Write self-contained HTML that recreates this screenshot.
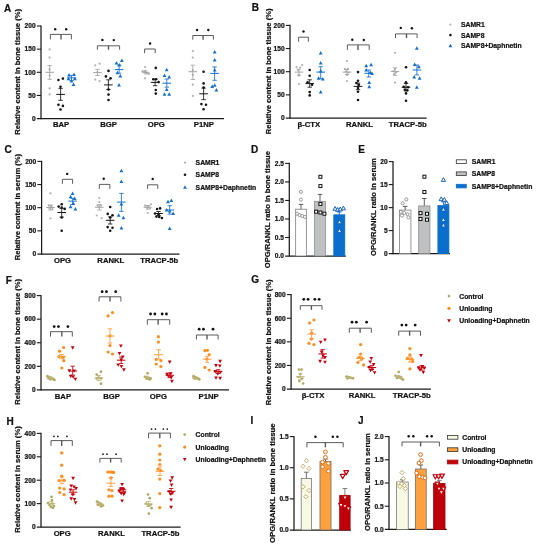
<!DOCTYPE html>
<html><head><meta charset="utf-8"><style>
html,body{margin:0;padding:0;background:#fff;}
svg{display:block;will-change:transform;}
text{font-family:"Liberation Sans", sans-serif;font-weight:bold;fill:#111;stroke:#111;stroke-width:0.22px;}
.L{font-size:10px;}
.T{font-size:6.6px;text-anchor:end;}
.C{font-size:7.7px;text-anchor:middle;}
.Y{font-size:7.6px;text-anchor:middle;}
.G{font-size:6.8px;}
.ax{stroke:#1a1a1a;stroke-width:1.25;fill:none;}
.tk{stroke:#1a1a1a;stroke-width:1.1;}
.br{stroke:#4a4a4a;stroke-width:0.9;fill:none;}
.st{fill:#111;}
</style></head><body>
<svg width="536" height="550" viewBox="0 0 536 550">
<rect width="536" height="550" fill="#fff"/>
<text x="4" y="11.9" class="L">A</text>
<line x1="41" y1="25.4" x2="41" y2="119.2" class="ax"/>
<line x1="36.8" y1="118.6" x2="224" y2="118.6" class="ax"/>
<text x="35.6" y="120.9" class="T">0</text>
<line x1="36.8" y1="95.45" x2="41" y2="95.45" class="tk"/>
<text x="35.6" y="97.75" class="T">50</text>
<line x1="36.8" y1="72.3" x2="41" y2="72.3" class="tk"/>
<text x="35.6" y="74.6" class="T">100</text>
<line x1="36.8" y1="49.15" x2="41" y2="49.15" class="tk"/>
<text x="35.6" y="51.45" class="T">150</text>
<line x1="36.8" y1="26" x2="41" y2="26" class="tk"/>
<text x="35.6" y="28.3" class="T">200</text>
<text transform="translate(19.8,71.9) rotate(-90)" class="Y">Relative content in bone tissue (%)</text>
<text x="61.1" y="127.1" class="C">BAP</text>
<text x="108.6" y="127.1" class="C">BGP</text>
<text x="156.3" y="127.1" class="C">OPG</text>
<text x="203.9" y="127.1" class="C">P1NP</text>
<circle cx="49.6" cy="49.4" r="1.1" fill="#b0b0b0"/>
<circle cx="49.6" cy="57.6" r="1.1" fill="#b0b0b0"/>
<circle cx="49.6" cy="69.4" r="1.1" fill="#b0b0b0"/>
<circle cx="49.6" cy="75.5" r="1.1" fill="#b0b0b0"/>
<circle cx="49.6" cy="88.4" r="1.1" fill="#b0b0b0"/>
<circle cx="49.6" cy="94.4" r="1.1" fill="#b0b0b0"/>
<line x1="45.4" y1="72.3" x2="54" y2="72.3" stroke="#a4a4a4" stroke-width="1.0"/>
<line x1="49.7" y1="65.6" x2="49.7" y2="79.3" stroke="#a4a4a4" stroke-width="0.85"/>
<line x1="47.5" y1="65.6" x2="51.9" y2="65.6" stroke="#a4a4a4" stroke-width="0.85"/>
<line x1="47.5" y1="79.3" x2="51.9" y2="79.3" stroke="#a4a4a4" stroke-width="0.85"/>
<circle cx="58.4" cy="80" r="1.3" fill="#141414"/>
<circle cx="62.9" cy="78.6" r="1.3" fill="#141414"/>
<circle cx="60.5" cy="86.8" r="1.3" fill="#141414"/>
<circle cx="58.4" cy="104.7" r="1.3" fill="#141414"/>
<circle cx="62.9" cy="105.9" r="1.3" fill="#141414"/>
<circle cx="60.5" cy="109.5" r="1.3" fill="#141414"/>
<line x1="56.3" y1="94.4" x2="64.9" y2="94.4" stroke="#141414" stroke-width="1.0"/>
<line x1="60.6" y1="88.4" x2="60.6" y2="100.3" stroke="#141414" stroke-width="0.85"/>
<line x1="58.4" y1="88.4" x2="62.8" y2="88.4" stroke="#141414" stroke-width="0.85"/>
<line x1="58.4" y1="100.3" x2="62.8" y2="100.3" stroke="#141414" stroke-width="0.85"/>
<path d="M69 73.1L70.9 76.61L67.1 76.61Z" fill="#1470d0"/>
<path d="M74 72.5L75.9 76.02L72.1 76.02Z" fill="#1470d0"/>
<path d="M68.5 76.7L70.4 80.21L66.6 80.21Z" fill="#1470d0"/>
<path d="M74.9 76.7L76.8 80.21L73 80.21Z" fill="#1470d0"/>
<path d="M71.5 78.9L73.4 82.41L69.6 82.41Z" fill="#1470d0"/>
<path d="M73.5 82.6L75.4 86.11L71.6 86.11Z" fill="#1470d0"/>
<line x1="67.2" y1="77.8" x2="75.8" y2="77.8" stroke="#1470d0" stroke-width="1.0"/>
<line x1="71.5" y1="75.4" x2="71.5" y2="80.4" stroke="#1470d0" stroke-width="0.85"/>
<line x1="69.3" y1="75.4" x2="73.7" y2="75.4" stroke="#1470d0" stroke-width="0.85"/>
<line x1="69.3" y1="80.4" x2="73.7" y2="80.4" stroke="#1470d0" stroke-width="0.85"/>
<path d="M50.4 39.4V34.4H71.4V39.4" class="br"/>
<line x1="61" y1="34.4" x2="61" y2="39.4" stroke="#555" stroke-width="1.35"/>
<circle cx="55.2" cy="29.2" r="1.2" class="st"/>
<circle cx="66.2" cy="29.2" r="1.2" class="st"/>
<circle cx="95.3" cy="65.3" r="1.1" fill="#b0b0b0"/>
<circle cx="99.6" cy="63.7" r="1.1" fill="#b0b0b0"/>
<circle cx="95.3" cy="79.6" r="1.1" fill="#b0b0b0"/>
<circle cx="99.6" cy="81.1" r="1.1" fill="#b0b0b0"/>
<circle cx="97.5" cy="72" r="1.1" fill="#b0b0b0"/>
<line x1="93.2" y1="72.6" x2="101.8" y2="72.6" stroke="#a4a4a4" stroke-width="1.0"/>
<line x1="97.5" y1="69.4" x2="97.5" y2="75.5" stroke="#a4a4a4" stroke-width="0.85"/>
<line x1="95.3" y1="69.4" x2="99.7" y2="69.4" stroke="#a4a4a4" stroke-width="0.85"/>
<line x1="95.3" y1="75.5" x2="99.7" y2="75.5" stroke="#a4a4a4" stroke-width="0.85"/>
<circle cx="108.5" cy="70.9" r="1.3" fill="#141414"/>
<circle cx="105.9" cy="76.4" r="1.3" fill="#141414"/>
<circle cx="110.6" cy="78.3" r="1.3" fill="#141414"/>
<circle cx="108.5" cy="89.5" r="1.3" fill="#141414"/>
<circle cx="108.5" cy="94.6" r="1.3" fill="#141414"/>
<circle cx="108.5" cy="100" r="1.3" fill="#141414"/>
<line x1="104.1" y1="84.9" x2="112.7" y2="84.9" stroke="#141414" stroke-width="1.0"/>
<line x1="108.4" y1="79.8" x2="108.4" y2="89.5" stroke="#141414" stroke-width="0.85"/>
<line x1="106.2" y1="79.8" x2="110.6" y2="79.8" stroke="#141414" stroke-width="0.85"/>
<line x1="106.2" y1="89.5" x2="110.6" y2="89.5" stroke="#141414" stroke-width="0.85"/>
<path d="M116.5 60.9L118.4 64.41L114.6 64.41Z" fill="#1470d0"/>
<path d="M121.8 58.6L123.7 62.12L119.9 62.12Z" fill="#1470d0"/>
<path d="M119.3 63.1L121.2 66.61L117.4 66.61Z" fill="#1470d0"/>
<path d="M117.4 70.7L119.3 74.21L115.5 74.21Z" fill="#1470d0"/>
<path d="M120.3 73.9L122.2 77.41L118.4 77.41Z" fill="#1470d0"/>
<path d="M119 83L120.9 86.52L117.1 86.52Z" fill="#1470d0"/>
<line x1="114.8" y1="69.6" x2="123.4" y2="69.6" stroke="#1470d0" stroke-width="1.0"/>
<line x1="119.1" y1="65" x2="119.1" y2="73.2" stroke="#1470d0" stroke-width="0.85"/>
<line x1="116.9" y1="65" x2="121.3" y2="65" stroke="#1470d0" stroke-width="0.85"/>
<line x1="116.9" y1="73.2" x2="121.3" y2="73.2" stroke="#1470d0" stroke-width="0.85"/>
<path d="M97.4 49.7V45.8H119.6V49.7" class="br"/>
<line x1="108.5" y1="45.8" x2="108.5" y2="49.7" stroke="#555" stroke-width="1.35"/>
<circle cx="102.4" cy="39.9" r="1.2" class="st"/>
<circle cx="113.8" cy="40.1" r="1.2" class="st"/>
<circle cx="145" cy="67.1" r="1.1" fill="#b0b0b0"/>
<circle cx="145" cy="78.3" r="1.1" fill="#b0b0b0"/>
<circle cx="142.5" cy="71.2" r="1.1" fill="#b0b0b0"/>
<circle cx="144.2" cy="71.8" r="1.1" fill="#b0b0b0"/>
<circle cx="146" cy="72.6" r="1.1" fill="#b0b0b0"/>
<circle cx="147.5" cy="73.2" r="1.1" fill="#b0b0b0"/>
<circle cx="149" cy="73.8" r="1.1" fill="#b0b0b0"/>
<line x1="141.75" y1="72.3" x2="149.25" y2="72.3" stroke="#a4a4a4" stroke-width="1.0"/>
<line x1="145.5" y1="70.6" x2="145.5" y2="74" stroke="#a4a4a4" stroke-width="0.85"/>
<line x1="143.75" y1="70.6" x2="147.25" y2="70.6" stroke="#a4a4a4" stroke-width="0.85"/>
<line x1="143.75" y1="74" x2="147.25" y2="74" stroke="#a4a4a4" stroke-width="0.85"/>
<circle cx="155.8" cy="67.9" r="1.3" fill="#141414"/>
<circle cx="153.3" cy="79.3" r="1.3" fill="#141414"/>
<circle cx="156.1" cy="79.3" r="1.3" fill="#141414"/>
<circle cx="158.6" cy="82.1" r="1.3" fill="#141414"/>
<circle cx="155.8" cy="90" r="1.3" fill="#141414"/>
<circle cx="155.8" cy="93.6" r="1.3" fill="#141414"/>
<line x1="150.8" y1="82.4" x2="159.4" y2="82.4" stroke="#141414" stroke-width="1.0"/>
<line x1="155.1" y1="79" x2="155.1" y2="85.7" stroke="#141414" stroke-width="0.85"/>
<line x1="152.9" y1="79" x2="157.3" y2="79" stroke="#141414" stroke-width="0.85"/>
<line x1="152.9" y1="85.7" x2="157.3" y2="85.7" stroke="#141414" stroke-width="0.85"/>
<path d="M166.7 67.7L168.6 71.21L164.8 71.21Z" fill="#1470d0"/>
<path d="M164.5 73.6L166.4 77.11L162.6 77.11Z" fill="#1470d0"/>
<path d="M169.2 75.1L171.1 78.61L167.3 78.61Z" fill="#1470d0"/>
<path d="M166.7 87.6L168.6 91.11L164.8 91.11Z" fill="#1470d0"/>
<path d="M164.5 92.3L166.4 95.81L162.6 95.81Z" fill="#1470d0"/>
<path d="M169.2 92.3L171.1 95.81L167.3 95.81Z" fill="#1470d0"/>
<line x1="162.5" y1="83.2" x2="171.1" y2="83.2" stroke="#1470d0" stroke-width="1.0"/>
<line x1="166.8" y1="79" x2="166.8" y2="87.2" stroke="#1470d0" stroke-width="0.85"/>
<line x1="164.6" y1="79" x2="169" y2="79" stroke="#1470d0" stroke-width="0.85"/>
<line x1="164.6" y1="87.2" x2="169" y2="87.2" stroke="#1470d0" stroke-width="0.85"/>
<path d="M144.6 53.2V49H155.2V53.2" class="br"/>
<circle cx="150.1" cy="43.5" r="1.2" class="st"/>
<circle cx="192.8" cy="51" r="1.1" fill="#b0b0b0"/>
<circle cx="192.8" cy="57.6" r="1.1" fill="#b0b0b0"/>
<circle cx="192.8" cy="70" r="1.1" fill="#b0b0b0"/>
<circle cx="192.8" cy="74.8" r="1.1" fill="#b0b0b0"/>
<circle cx="192.8" cy="84.7" r="1.1" fill="#b0b0b0"/>
<circle cx="192.8" cy="95.9" r="1.1" fill="#b0b0b0"/>
<line x1="188.5" y1="71.7" x2="197.1" y2="71.7" stroke="#a4a4a4" stroke-width="1.0"/>
<line x1="192.8" y1="65.2" x2="192.8" y2="79.5" stroke="#a4a4a4" stroke-width="0.85"/>
<line x1="190.6" y1="65.2" x2="195" y2="65.2" stroke="#a4a4a4" stroke-width="0.85"/>
<line x1="190.6" y1="79.5" x2="195" y2="79.5" stroke="#a4a4a4" stroke-width="0.85"/>
<circle cx="203.6" cy="71.7" r="1.3" fill="#141414"/>
<circle cx="203.6" cy="83.4" r="1.3" fill="#141414"/>
<circle cx="203.6" cy="87.6" r="1.3" fill="#141414"/>
<circle cx="201.4" cy="104.1" r="1.3" fill="#141414"/>
<circle cx="206" cy="104.8" r="1.3" fill="#141414"/>
<circle cx="203.6" cy="109.3" r="1.3" fill="#141414"/>
<line x1="199.3" y1="93.8" x2="207.9" y2="93.8" stroke="#141414" stroke-width="1.0"/>
<line x1="203.6" y1="88.1" x2="203.6" y2="99.7" stroke="#141414" stroke-width="0.85"/>
<line x1="201.4" y1="88.1" x2="205.8" y2="88.1" stroke="#141414" stroke-width="0.85"/>
<line x1="201.4" y1="99.7" x2="205.8" y2="99.7" stroke="#141414" stroke-width="0.85"/>
<path d="M214.7 50L216.6 53.52L212.8 53.52Z" fill="#1470d0"/>
<path d="M214.7 58.1L216.6 61.62L212.8 61.62Z" fill="#1470d0"/>
<path d="M214.7 68.1L216.6 71.61L212.8 71.61Z" fill="#1470d0"/>
<path d="M212.2 84.5L214.1 88.02L210.3 88.02Z" fill="#1470d0"/>
<path d="M214.7 83.3L216.6 86.81L212.8 86.81Z" fill="#1470d0"/>
<path d="M216.4 87.9L218.3 91.41L214.5 91.41Z" fill="#1470d0"/>
<line x1="210.3" y1="73.4" x2="218.9" y2="73.4" stroke="#1470d0" stroke-width="1.0"/>
<line x1="214.6" y1="66.9" x2="214.6" y2="80.3" stroke="#1470d0" stroke-width="0.85"/>
<line x1="212.4" y1="66.9" x2="216.8" y2="66.9" stroke="#1470d0" stroke-width="0.85"/>
<line x1="212.4" y1="80.3" x2="216.8" y2="80.3" stroke="#1470d0" stroke-width="0.85"/>
<path d="M192.8 39.7V35.5H213.4V39.7" class="br"/>
<line x1="203.1" y1="35.5" x2="203.1" y2="39.7" stroke="#555" stroke-width="1.35"/>
<circle cx="197.1" cy="30" r="1.2" class="st"/>
<circle cx="208.3" cy="30" r="1.2" class="st"/>
<text x="251.8" y="11.4" class="L">B</text>
<line x1="290" y1="24.8" x2="290" y2="118.6" class="ax"/>
<line x1="285.8" y1="118" x2="426.6" y2="118" class="ax"/>
<text x="284.6" y="120.3" class="T">0</text>
<line x1="285.8" y1="94.85" x2="290" y2="94.85" class="tk"/>
<text x="284.6" y="97.15" class="T">50</text>
<line x1="285.8" y1="71.7" x2="290" y2="71.7" class="tk"/>
<text x="284.6" y="74" class="T">100</text>
<line x1="285.8" y1="48.55" x2="290" y2="48.55" class="tk"/>
<text x="284.6" y="50.85" class="T">150</text>
<line x1="285.8" y1="25.4" x2="290" y2="25.4" class="tk"/>
<text x="284.6" y="27.7" class="T">200</text>
<text transform="translate(270.6,71.4) rotate(-90)" class="Y">Relative content in bone tissue (%)</text>
<text x="308.8" y="126.7" class="C">β-CTX</text>
<text x="359.5" y="126.7" class="C">RANKL</text>
<text x="407.7" y="126.7" class="C">TRACP-5b</text>
<circle cx="296.6" cy="67.2" r="1.1" fill="#b0b0b0"/>
<circle cx="300.2" cy="67.5" r="1.1" fill="#b0b0b0"/>
<circle cx="302.2" cy="65.1" r="1.1" fill="#b0b0b0"/>
<circle cx="298" cy="70" r="1.1" fill="#b0b0b0"/>
<circle cx="298.9" cy="75.7" r="1.1" fill="#b0b0b0"/>
<circle cx="298.9" cy="84" r="1.1" fill="#b0b0b0"/>
<line x1="294.7" y1="72.1" x2="303.3" y2="72.1" stroke="#a4a4a4" stroke-width="1.0"/>
<line x1="299" y1="69.2" x2="299" y2="74.9" stroke="#a4a4a4" stroke-width="0.85"/>
<line x1="296.8" y1="69.2" x2="301.2" y2="69.2" stroke="#a4a4a4" stroke-width="0.85"/>
<line x1="296.8" y1="74.9" x2="301.2" y2="74.9" stroke="#a4a4a4" stroke-width="0.85"/>
<circle cx="309.7" cy="70" r="1.3" fill="#141414"/>
<circle cx="309.7" cy="75.7" r="1.3" fill="#141414"/>
<circle cx="307.6" cy="82.3" r="1.3" fill="#141414"/>
<circle cx="312" cy="84.8" r="1.3" fill="#141414"/>
<circle cx="309.7" cy="92.1" r="1.3" fill="#141414"/>
<circle cx="309.7" cy="95.4" r="1.3" fill="#141414"/>
<line x1="305.4" y1="83.6" x2="314" y2="83.6" stroke="#141414" stroke-width="1.0"/>
<line x1="309.7" y1="79.8" x2="309.7" y2="87.2" stroke="#141414" stroke-width="0.85"/>
<line x1="307.5" y1="79.8" x2="311.9" y2="79.8" stroke="#141414" stroke-width="0.85"/>
<line x1="307.5" y1="87.2" x2="311.9" y2="87.2" stroke="#141414" stroke-width="0.85"/>
<path d="M320.7 50.9L322.6 54.41L318.8 54.41Z" fill="#1470d0"/>
<path d="M320.7 61L322.6 64.52L318.8 64.52Z" fill="#1470d0"/>
<path d="M320.7 68.9L322.6 72.41L318.8 72.41Z" fill="#1470d0"/>
<path d="M318.6 76.3L320.5 79.81L316.7 79.81Z" fill="#1470d0"/>
<path d="M322.8 77.1L324.7 80.61L320.9 80.61Z" fill="#1470d0"/>
<path d="M320.7 89.9L322.6 93.41L318.8 93.41Z" fill="#1470d0"/>
<line x1="316.4" y1="72.1" x2="325" y2="72.1" stroke="#1470d0" stroke-width="1.0"/>
<line x1="320.7" y1="66.7" x2="320.7" y2="78.7" stroke="#1470d0" stroke-width="0.85"/>
<line x1="318.5" y1="66.7" x2="322.9" y2="66.7" stroke="#1470d0" stroke-width="0.85"/>
<line x1="318.5" y1="78.7" x2="322.9" y2="78.7" stroke="#1470d0" stroke-width="0.85"/>
<path d="M298.6 41.7V37.2H308.4V41.7" class="br"/>
<circle cx="303.5" cy="31.5" r="1.2" class="st"/>
<circle cx="346.9" cy="61" r="1.1" fill="#b0b0b0"/>
<circle cx="344.9" cy="68.9" r="1.1" fill="#b0b0b0"/>
<circle cx="347.9" cy="68.9" r="1.1" fill="#b0b0b0"/>
<circle cx="346" cy="71.5" r="1.1" fill="#b0b0b0"/>
<circle cx="348.5" cy="72.5" r="1.1" fill="#b0b0b0"/>
<circle cx="347" cy="74.9" r="1.1" fill="#b0b0b0"/>
<circle cx="346.9" cy="81" r="1.1" fill="#b0b0b0"/>
<line x1="342.7" y1="72.1" x2="351.3" y2="72.1" stroke="#a4a4a4" stroke-width="1.0"/>
<line x1="347" y1="69.5" x2="347" y2="74.5" stroke="#a4a4a4" stroke-width="0.85"/>
<line x1="344.8" y1="69.5" x2="349.2" y2="69.5" stroke="#a4a4a4" stroke-width="0.85"/>
<line x1="344.8" y1="74.5" x2="349.2" y2="74.5" stroke="#a4a4a4" stroke-width="0.85"/>
<circle cx="358" cy="72.1" r="1.3" fill="#141414"/>
<circle cx="358" cy="80.7" r="1.3" fill="#141414"/>
<circle cx="356.4" cy="83" r="1.3" fill="#141414"/>
<circle cx="358.9" cy="84.8" r="1.3" fill="#141414"/>
<circle cx="358" cy="88" r="1.3" fill="#141414"/>
<circle cx="358" cy="91.8" r="1.3" fill="#141414"/>
<circle cx="358" cy="100" r="1.3" fill="#141414"/>
<line x1="353.7" y1="86.4" x2="362.3" y2="86.4" stroke="#141414" stroke-width="1.0"/>
<line x1="358" y1="83.1" x2="358" y2="89.7" stroke="#141414" stroke-width="0.85"/>
<line x1="355.8" y1="83.1" x2="360.2" y2="83.1" stroke="#141414" stroke-width="0.85"/>
<line x1="355.8" y1="89.7" x2="360.2" y2="89.7" stroke="#141414" stroke-width="0.85"/>
<path d="M366.2 63.7L368.1 67.21L364.3 67.21Z" fill="#1470d0"/>
<path d="M371.1 62.7L373 66.21L369.2 66.21Z" fill="#1470d0"/>
<path d="M366.2 68.1L368.1 71.61L364.3 71.61Z" fill="#1470d0"/>
<path d="M370.3 70.6L372.2 74.11L368.4 74.11Z" fill="#1470d0"/>
<path d="M372 71.6L373.9 75.11L370.1 75.11Z" fill="#1470d0"/>
<path d="M369.2 80.4L371.1 83.91L367.3 83.91Z" fill="#1470d0"/>
<path d="M369.2 84.7L371.1 88.21L367.3 88.21Z" fill="#1470d0"/>
<line x1="364.4" y1="73.3" x2="373" y2="73.3" stroke="#1470d0" stroke-width="1.0"/>
<line x1="368.7" y1="70" x2="368.7" y2="77" stroke="#1470d0" stroke-width="0.85"/>
<line x1="366.5" y1="70" x2="370.9" y2="70" stroke="#1470d0" stroke-width="0.85"/>
<line x1="366.5" y1="77" x2="370.9" y2="77" stroke="#1470d0" stroke-width="0.85"/>
<path d="M347.4 49.9V44.9H369.2V49.9" class="br"/>
<line x1="358" y1="44.9" x2="358" y2="49.9" stroke="#555" stroke-width="1.35"/>
<circle cx="352.3" cy="39.7" r="1.2" class="st"/>
<circle cx="363.8" cy="40" r="1.2" class="st"/>
<circle cx="395" cy="52.8" r="1.1" fill="#b0b0b0"/>
<circle cx="393.5" cy="71" r="1.1" fill="#b0b0b0"/>
<circle cx="396" cy="72.5" r="1.1" fill="#b0b0b0"/>
<circle cx="395" cy="69" r="1.1" fill="#b0b0b0"/>
<circle cx="394" cy="74" r="1.1" fill="#b0b0b0"/>
<circle cx="395" cy="82.6" r="1.1" fill="#b0b0b0"/>
<line x1="390.7" y1="71.6" x2="399.3" y2="71.6" stroke="#a4a4a4" stroke-width="1.0"/>
<line x1="395" y1="67.9" x2="395" y2="75.4" stroke="#a4a4a4" stroke-width="0.85"/>
<line x1="392.8" y1="67.9" x2="397.2" y2="67.9" stroke="#a4a4a4" stroke-width="0.85"/>
<line x1="392.8" y1="75.4" x2="397.2" y2="75.4" stroke="#a4a4a4" stroke-width="0.85"/>
<circle cx="406" cy="67.2" r="1.3" fill="#141414"/>
<circle cx="406" cy="82.3" r="1.3" fill="#141414"/>
<circle cx="403.7" cy="86.9" r="1.3" fill="#141414"/>
<circle cx="408.1" cy="87.2" r="1.3" fill="#141414"/>
<circle cx="404.9" cy="89.7" r="1.3" fill="#141414"/>
<circle cx="407.3" cy="90.2" r="1.3" fill="#141414"/>
<circle cx="406" cy="93.4" r="1.3" fill="#141414"/>
<circle cx="406" cy="100.7" r="1.3" fill="#141414"/>
<line x1="401.7" y1="87.2" x2="410.3" y2="87.2" stroke="#141414" stroke-width="1.0"/>
<line x1="406" y1="83.5" x2="406" y2="91" stroke="#141414" stroke-width="0.85"/>
<line x1="403.8" y1="83.5" x2="408.2" y2="83.5" stroke="#141414" stroke-width="0.85"/>
<line x1="403.8" y1="91" x2="408.2" y2="91" stroke="#141414" stroke-width="0.85"/>
<path d="M416.8 46.3L418.7 49.82L414.9 49.82Z" fill="#1470d0"/>
<path d="M414.7 62.4L416.6 65.91L412.8 65.91Z" fill="#1470d0"/>
<path d="M418.8 64.8L420.7 68.31L416.9 68.31Z" fill="#1470d0"/>
<path d="M414.2 75.1L416.1 78.61L412.3 78.61Z" fill="#1470d0"/>
<path d="M419.6 76.3L421.5 79.81L417.7 79.81Z" fill="#1470d0"/>
<path d="M416.8 85.3L418.7 88.81L414.9 88.81Z" fill="#1470d0"/>
<line x1="412.6" y1="70" x2="421.2" y2="70" stroke="#1470d0" stroke-width="1.0"/>
<line x1="416.9" y1="65" x2="416.9" y2="74.9" stroke="#1470d0" stroke-width="0.85"/>
<line x1="414.7" y1="65" x2="419.1" y2="65" stroke="#1470d0" stroke-width="0.85"/>
<line x1="414.7" y1="74.9" x2="419.1" y2="74.9" stroke="#1470d0" stroke-width="0.85"/>
<path d="M395.5 38.1V33.9H417.1V38.1" class="br"/>
<line x1="406.5" y1="33.9" x2="406.5" y2="38.1" stroke="#555" stroke-width="1.35"/>
<circle cx="400.8" cy="27.9" r="1.2" class="st"/>
<circle cx="411.9" cy="28.2" r="1.2" class="st"/>
<circle cx="450.4" cy="24.6" r="1.1" fill="#b0b0b0"/>
<text x="461" y="27.1" class="G">SAMR1</text>
<circle cx="450.4" cy="35.1" r="1.3" fill="#141414"/>
<text x="461" y="37.7" class="G">SAMP8</text>
<path d="M450.4 43.7L452.3 47.22L448.5 47.22Z" fill="#1470d0"/>
<text x="461" y="48.2" class="G">SAMP8+Daphnetin</text>
<text x="4.6" y="153.2" class="L">C</text>
<line x1="41.6" y1="160.8" x2="41.6" y2="254.6" class="ax"/>
<line x1="37.4" y1="254" x2="179.5" y2="254" class="ax"/>
<text x="36.2" y="256.3" class="T">0</text>
<line x1="37.4" y1="230.85" x2="41.6" y2="230.85" class="tk"/>
<text x="36.2" y="233.15" class="T">50</text>
<line x1="37.4" y1="207.7" x2="41.6" y2="207.7" class="tk"/>
<text x="36.2" y="210" class="T">100</text>
<line x1="37.4" y1="184.55" x2="41.6" y2="184.55" class="tk"/>
<text x="36.2" y="186.85" class="T">150</text>
<line x1="37.4" y1="161.4" x2="41.6" y2="161.4" class="tk"/>
<text x="36.2" y="163.7" class="T">200</text>
<text transform="translate(20.1,207.1) rotate(-90)" class="Y">Relative content in serum (%)</text>
<text x="62.5" y="262.7" class="C">OPG</text>
<text x="110.8" y="262.7" class="C">RANKL</text>
<text x="159.2" y="262.7" class="C">TRACP-5b</text>
<circle cx="50.5" cy="193.4" r="1.1" fill="#b0b0b0"/>
<circle cx="48.8" cy="205.6" r="1.1" fill="#b0b0b0"/>
<circle cx="51.5" cy="206.2" r="1.1" fill="#b0b0b0"/>
<circle cx="49.5" cy="208.2" r="1.1" fill="#b0b0b0"/>
<circle cx="52.5" cy="209" r="1.1" fill="#b0b0b0"/>
<circle cx="50.5" cy="218.5" r="1.1" fill="#b0b0b0"/>
<line x1="46.2" y1="207.5" x2="54.8" y2="207.5" stroke="#a4a4a4" stroke-width="1.0"/>
<line x1="50.5" y1="205" x2="50.5" y2="210" stroke="#a4a4a4" stroke-width="0.85"/>
<line x1="48.3" y1="205" x2="52.7" y2="205" stroke="#a4a4a4" stroke-width="0.85"/>
<line x1="48.3" y1="210" x2="52.7" y2="210" stroke="#a4a4a4" stroke-width="0.85"/>
<circle cx="61.7" cy="204.3" r="1.3" fill="#141414"/>
<circle cx="58.7" cy="206.6" r="1.3" fill="#141414"/>
<circle cx="64.7" cy="208.9" r="1.3" fill="#141414"/>
<circle cx="61.7" cy="207.5" r="1.3" fill="#141414"/>
<circle cx="61.7" cy="217.5" r="1.3" fill="#141414"/>
<circle cx="61.7" cy="230.7" r="1.3" fill="#141414"/>
<line x1="57.4" y1="212.5" x2="66" y2="212.5" stroke="#141414" stroke-width="1.0"/>
<line x1="61.7" y1="208.4" x2="61.7" y2="217.1" stroke="#141414" stroke-width="0.85"/>
<line x1="59.5" y1="208.4" x2="63.9" y2="208.4" stroke="#141414" stroke-width="0.85"/>
<line x1="59.5" y1="217.1" x2="63.9" y2="217.1" stroke="#141414" stroke-width="0.85"/>
<path d="M72.6 191.5L74.5 195.02L70.7 195.02Z" fill="#1470d0"/>
<path d="M70.6 194.7L72.5 198.22L68.7 198.22Z" fill="#1470d0"/>
<path d="M74.7 196.5L76.6 200.02L72.8 200.02Z" fill="#1470d0"/>
<path d="M73.3 201.6L75.2 205.12L71.4 205.12Z" fill="#1470d0"/>
<path d="M70.6 204.7L72.5 208.22L68.7 208.22Z" fill="#1470d0"/>
<path d="M75.4 207L77.3 210.52L73.5 210.52Z" fill="#1470d0"/>
<line x1="68.3" y1="201.1" x2="76.9" y2="201.1" stroke="#1470d0" stroke-width="1.0"/>
<line x1="72.6" y1="198.4" x2="72.6" y2="204.5" stroke="#1470d0" stroke-width="0.85"/>
<line x1="70.4" y1="198.4" x2="74.8" y2="198.4" stroke="#1470d0" stroke-width="0.85"/>
<line x1="70.4" y1="204.5" x2="74.8" y2="204.5" stroke="#1470d0" stroke-width="0.85"/>
<path d="M62.4 183.8V179.3H72.6V183.8" class="br"/>
<circle cx="67.2" cy="173.9" r="1.2" class="st"/>
<circle cx="99.3" cy="198" r="1.1" fill="#b0b0b0"/>
<circle cx="99.3" cy="202.1" r="1.1" fill="#b0b0b0"/>
<circle cx="97.5" cy="205.6" r="1.1" fill="#b0b0b0"/>
<circle cx="101" cy="205.6" r="1.1" fill="#b0b0b0"/>
<circle cx="99.3" cy="207.3" r="1.1" fill="#b0b0b0"/>
<circle cx="96.8" cy="215.5" r="1.1" fill="#b0b0b0"/>
<circle cx="101.6" cy="218" r="1.1" fill="#b0b0b0"/>
<line x1="95" y1="207.3" x2="103.6" y2="207.3" stroke="#a4a4a4" stroke-width="1.0"/>
<line x1="99.3" y1="204.6" x2="99.3" y2="210" stroke="#a4a4a4" stroke-width="0.85"/>
<line x1="97.1" y1="204.6" x2="101.5" y2="204.6" stroke="#a4a4a4" stroke-width="0.85"/>
<line x1="97.1" y1="210" x2="101.5" y2="210" stroke="#a4a4a4" stroke-width="0.85"/>
<circle cx="110.2" cy="207" r="1.3" fill="#141414"/>
<circle cx="107.7" cy="213.9" r="1.3" fill="#141414"/>
<circle cx="112.5" cy="215.2" r="1.3" fill="#141414"/>
<circle cx="110.2" cy="217.5" r="1.3" fill="#141414"/>
<circle cx="107.7" cy="227.1" r="1.3" fill="#141414"/>
<circle cx="112.5" cy="227.8" r="1.3" fill="#141414"/>
<circle cx="110.2" cy="230.8" r="1.3" fill="#141414"/>
<line x1="105.9" y1="220.3" x2="114.5" y2="220.3" stroke="#141414" stroke-width="1.0"/>
<line x1="110.2" y1="216.9" x2="110.2" y2="224" stroke="#141414" stroke-width="0.85"/>
<line x1="108" y1="216.9" x2="112.4" y2="216.9" stroke="#141414" stroke-width="0.85"/>
<line x1="108" y1="224" x2="112.4" y2="224" stroke="#141414" stroke-width="0.85"/>
<path d="M121.4 168.8L123.3 172.31L119.5 172.31Z" fill="#1470d0"/>
<path d="M121.4 179.5L123.3 183.02L119.5 183.02Z" fill="#1470d0"/>
<path d="M121.4 202L123.3 205.52L119.5 205.52Z" fill="#1470d0"/>
<path d="M118.7 213.3L120.6 216.81L116.8 216.81Z" fill="#1470d0"/>
<path d="M123.4 215.7L125.3 219.22L121.5 219.22Z" fill="#1470d0"/>
<path d="M121.4 225.9L123.3 229.42L119.5 229.42Z" fill="#1470d0"/>
<line x1="117.1" y1="202.1" x2="125.7" y2="202.1" stroke="#1470d0" stroke-width="1.0"/>
<line x1="121.4" y1="193.4" x2="121.4" y2="211.4" stroke="#1470d0" stroke-width="0.85"/>
<line x1="119.2" y1="193.4" x2="123.6" y2="193.4" stroke="#1470d0" stroke-width="0.85"/>
<line x1="119.2" y1="211.4" x2="123.6" y2="211.4" stroke="#1470d0" stroke-width="0.85"/>
<path d="M99.3 188.9V184.4H109.8V188.9" class="br"/>
<circle cx="103.7" cy="178.7" r="1.2" class="st"/>
<circle cx="151" cy="204.3" r="1.1" fill="#b0b0b0"/>
<circle cx="145.1" cy="205.7" r="1.1" fill="#b0b0b0"/>
<circle cx="148.9" cy="206" r="1.1" fill="#b0b0b0"/>
<circle cx="146.9" cy="207.6" r="1.1" fill="#b0b0b0"/>
<circle cx="150" cy="208.4" r="1.1" fill="#b0b0b0"/>
<circle cx="147.8" cy="212.8" r="1.1" fill="#b0b0b0"/>
<line x1="143.6" y1="207.3" x2="151.6" y2="207.3" stroke="#a4a4a4" stroke-width="1.0"/>
<line x1="147.6" y1="205.5" x2="147.6" y2="209.2" stroke="#a4a4a4" stroke-width="0.85"/>
<line x1="145.85" y1="205.5" x2="149.35" y2="205.5" stroke="#a4a4a4" stroke-width="0.85"/>
<line x1="145.85" y1="209.2" x2="149.35" y2="209.2" stroke="#a4a4a4" stroke-width="0.85"/>
<circle cx="157.1" cy="209" r="1.3" fill="#141414"/>
<circle cx="160.1" cy="208.4" r="1.3" fill="#141414"/>
<circle cx="155" cy="213.5" r="1.3" fill="#141414"/>
<circle cx="158.5" cy="214.2" r="1.3" fill="#141414"/>
<circle cx="156.4" cy="216.6" r="1.3" fill="#141414"/>
<circle cx="159.2" cy="216.9" r="1.3" fill="#141414"/>
<circle cx="161.9" cy="218" r="1.3" fill="#141414"/>
<line x1="154.2" y1="213.5" x2="162.8" y2="213.5" stroke="#141414" stroke-width="1.0"/>
<line x1="158.5" y1="211.5" x2="158.5" y2="215.5" stroke="#141414" stroke-width="0.85"/>
<line x1="156.3" y1="211.5" x2="160.7" y2="211.5" stroke="#141414" stroke-width="0.85"/>
<line x1="156.3" y1="215.5" x2="160.7" y2="215.5" stroke="#141414" stroke-width="0.85"/>
<path d="M168 199.7L169.9 203.22L166.1 203.22Z" fill="#1470d0"/>
<path d="M171.4 198.6L173.3 202.12L169.5 202.12Z" fill="#1470d0"/>
<path d="M166.7 207.9L168.6 211.42L164.8 211.42Z" fill="#1470d0"/>
<path d="M169.7 208.9L171.6 212.42L167.8 212.42Z" fill="#1470d0"/>
<path d="M173.2 211.6L175.1 215.12L171.3 215.12Z" fill="#1470d0"/>
<path d="M169.7 226.6L171.6 230.12L167.8 230.12Z" fill="#1470d0"/>
<line x1="165.4" y1="210" x2="174" y2="210" stroke="#1470d0" stroke-width="1.0"/>
<line x1="169.7" y1="205.7" x2="169.7" y2="214.1" stroke="#1470d0" stroke-width="0.85"/>
<line x1="167.5" y1="205.7" x2="171.9" y2="205.7" stroke="#1470d0" stroke-width="0.85"/>
<line x1="167.5" y1="214.1" x2="171.9" y2="214.1" stroke="#1470d0" stroke-width="0.85"/>
<path d="M147.6 188.9V184.8H157.8V188.9" class="br"/>
<circle cx="152.7" cy="178.9" r="1.2" class="st"/>
<circle cx="185" cy="162.6" r="1.1" fill="#b0b0b0"/>
<text x="195.6" y="165.1" class="G">SAMR1</text>
<circle cx="185" cy="174.8" r="1.3" fill="#141414"/>
<text x="195.6" y="177.3" class="G">SAMP8</text>
<path d="M185 185.3L186.9 188.81L183.1 188.81Z" fill="#1470d0"/>
<text x="195.6" y="189.7" class="G">SAMP8+Daphnetin</text>
<text x="250.9" y="152.7" class="L">D</text>
<line x1="289.3" y1="162.8" x2="289.3" y2="256.6" class="ax"/>
<line x1="285.1" y1="256" x2="345.8" y2="256" class="ax"/>
<text x="283.9" y="258.3" class="T">0.0</text>
<line x1="285.1" y1="237.48" x2="289.3" y2="237.48" class="tk"/>
<text x="283.9" y="239.78" class="T">0.5</text>
<line x1="285.1" y1="218.96" x2="289.3" y2="218.96" class="tk"/>
<text x="283.9" y="221.26" class="T">1.0</text>
<line x1="285.1" y1="200.44" x2="289.3" y2="200.44" class="tk"/>
<text x="283.9" y="202.74" class="T">1.5</text>
<line x1="285.1" y1="181.92" x2="289.3" y2="181.92" class="tk"/>
<text x="283.9" y="184.22" class="T">2.0</text>
<line x1="285.1" y1="163.4" x2="289.3" y2="163.4" class="tk"/>
<text x="283.9" y="165.7" class="T">2.5</text>
<text transform="translate(270.2,209.6) rotate(-90)" class="Y">OPG/RANKL ratio in bone tissue</text>
<line x1="301" y1="209.2" x2="301" y2="204.4" stroke="#555" stroke-width="0.95"/>
<line x1="298.7" y1="204.4" x2="303.3" y2="204.4" stroke="#555" stroke-width="0.95"/>
<rect x="295.68" y="209.2" width="10.65" height="46.8" fill="#ffffff" stroke="#777" stroke-width="0.75"/>
<line x1="320" y1="201.3" x2="320" y2="194.4" stroke="#555" stroke-width="0.95"/>
<line x1="317.7" y1="194.4" x2="322.3" y2="194.4" stroke="#555" stroke-width="0.95"/>
<rect x="314.48" y="201.3" width="11.05" height="54.7" fill="#bfc0c2" stroke="#8a8a8a" stroke-width="0.75"/>
<line x1="339.3" y1="214.8" x2="339.3" y2="212" stroke="#0a6ecd" stroke-width="0.95"/>
<line x1="337" y1="212" x2="341.6" y2="212" stroke="#0a6ecd" stroke-width="0.95"/>
<rect x="333.77" y="214.8" width="11.05" height="41.2" fill="#0a6ecd" stroke="#0a6ecd" stroke-width="0.75"/>
<circle cx="300.9" cy="191.8" r="1.55" fill="#fff" stroke="#8a8a8a" stroke-width="0.85"/>
<circle cx="300.9" cy="199.6" r="1.55" fill="#fff" stroke="#8a8a8a" stroke-width="0.85"/>
<circle cx="297.1" cy="213.7" r="1.55" fill="#fff" stroke="#8a8a8a" stroke-width="0.85"/>
<circle cx="299.7" cy="215.1" r="1.55" fill="#fff" stroke="#8a8a8a" stroke-width="0.85"/>
<circle cx="302.3" cy="216" r="1.55" fill="#fff" stroke="#8a8a8a" stroke-width="0.85"/>
<circle cx="304.9" cy="216.9" r="1.55" fill="#fff" stroke="#8a8a8a" stroke-width="0.85"/>
<rect x="318.9" y="175.3" width="3" height="3" fill="#fff" stroke="#111" stroke-width="1.0"/>
<rect x="318.9" y="184.6" width="3" height="3" fill="#fff" stroke="#111" stroke-width="1.0"/>
<rect x="318.9" y="202.4" width="3" height="3" fill="#fff" stroke="#111" stroke-width="1.0"/>
<rect x="314.6" y="210.2" width="3" height="3" fill="#fff" stroke="#111" stroke-width="1.0"/>
<rect x="318.9" y="211" width="3" height="3" fill="#fff" stroke="#111" stroke-width="1.0"/>
<rect x="322.9" y="212.2" width="3" height="3" fill="#fff" stroke="#111" stroke-width="1.0"/>
<path d="M335.1 206.5L337.2 210.28L333 210.28Z" fill="#fff" stroke="#0b5cb5" stroke-width="0.95" stroke-linejoin="round"/>
<path d="M337.7 207.5L339.8 211.28L335.6 211.28Z" fill="#fff" stroke="#0b5cb5" stroke-width="0.95" stroke-linejoin="round"/>
<path d="M340.3 207L342.4 210.78L338.2 210.78Z" fill="#fff" stroke="#0b5cb5" stroke-width="0.95" stroke-linejoin="round"/>
<path d="M343.4 206.1L345.5 209.88L341.3 209.88Z" fill="#fff" stroke="#0b5cb5" stroke-width="0.95" stroke-linejoin="round"/>
<path d="M339.5 219.9L341.6 223.68L337.4 223.68Z" fill="#fff" stroke="#0b5cb5" stroke-width="0.95" stroke-linejoin="round"/>
<path d="M339.5 228.6L341.6 232.38L337.4 232.38Z" fill="#fff" stroke="#0b5cb5" stroke-width="0.95" stroke-linejoin="round"/>
<text x="358.2" y="152.7" class="L">E</text>
<line x1="393" y1="161" x2="393" y2="254.2" class="ax"/>
<line x1="388.8" y1="253.6" x2="450" y2="253.6" class="ax"/>
<text x="387.6" y="255.9" class="T">0</text>
<line x1="388.8" y1="230.6" x2="393" y2="230.6" class="tk"/>
<text x="387.6" y="232.9" class="T">5</text>
<line x1="388.8" y1="207.6" x2="393" y2="207.6" class="tk"/>
<text x="387.6" y="209.9" class="T">10</text>
<line x1="388.8" y1="184.6" x2="393" y2="184.6" class="tk"/>
<text x="387.6" y="186.9" class="T">15</text>
<line x1="388.8" y1="161.6" x2="393" y2="161.6" class="tk"/>
<text x="387.6" y="163.9" class="T">20</text>
<text transform="translate(376,207.15) rotate(-90)" class="Y">OPG/RANKL ratio in serum</text>
<line x1="405.2" y1="210.1" x2="405.2" y2="206.4" stroke="#555" stroke-width="0.95"/>
<line x1="402.9" y1="206.4" x2="407.5" y2="206.4" stroke="#555" stroke-width="0.95"/>
<rect x="399.48" y="210.1" width="11.45" height="43.5" fill="#ffffff" stroke="#777" stroke-width="0.75"/>
<line x1="424.3" y1="205.9" x2="424.3" y2="198.5" stroke="#555" stroke-width="0.95"/>
<line x1="422" y1="198.5" x2="426.6" y2="198.5" stroke="#555" stroke-width="0.95"/>
<rect x="418.68" y="205.9" width="11.25" height="47.7" fill="#bfc0c2" stroke="#8a8a8a" stroke-width="0.75"/>
<line x1="443.4" y1="205.5" x2="443.4" y2="201.8" stroke="#0a6ecd" stroke-width="0.95"/>
<line x1="441.1" y1="201.8" x2="445.7" y2="201.8" stroke="#0a6ecd" stroke-width="0.95"/>
<rect x="437.88" y="205.5" width="11.05" height="48.1" fill="#0a6ecd" stroke="#0a6ecd" stroke-width="0.75"/>
<circle cx="406.3" cy="199.4" r="1.55" fill="#fff" stroke="#8a8a8a" stroke-width="0.85"/>
<circle cx="402.6" cy="203.3" r="1.55" fill="#fff" stroke="#8a8a8a" stroke-width="0.85"/>
<circle cx="400.9" cy="212" r="1.55" fill="#fff" stroke="#8a8a8a" stroke-width="0.85"/>
<circle cx="404.2" cy="213" r="1.55" fill="#fff" stroke="#8a8a8a" stroke-width="0.85"/>
<circle cx="407.5" cy="214.2" r="1.55" fill="#fff" stroke="#8a8a8a" stroke-width="0.85"/>
<circle cx="402" cy="215.6" r="1.55" fill="#fff" stroke="#8a8a8a" stroke-width="0.85"/>
<circle cx="408.5" cy="217.5" r="1.55" fill="#fff" stroke="#8a8a8a" stroke-width="0.85"/>
<rect x="422.9" y="175.2" width="3" height="3" fill="#fff" stroke="#111" stroke-width="1.0"/>
<rect x="422.9" y="190.5" width="3" height="3" fill="#fff" stroke="#111" stroke-width="1.0"/>
<rect x="419" y="211.6" width="3" height="3" fill="#fff" stroke="#111" stroke-width="1.0"/>
<rect x="425.5" y="212.3" width="3" height="3" fill="#fff" stroke="#111" stroke-width="1.0"/>
<rect x="419" y="217.5" width="3" height="3" fill="#fff" stroke="#111" stroke-width="1.0"/>
<rect x="425.5" y="218.2" width="3" height="3" fill="#fff" stroke="#111" stroke-width="1.0"/>
<path d="M443.4 177.6L445.5 181.38L441.3 181.38Z" fill="#fff" stroke="#0b5cb5" stroke-width="0.95" stroke-linejoin="round"/>
<path d="M441.2 196.9L443.3 200.68L439.1 200.68Z" fill="#fff" stroke="#0b5cb5" stroke-width="0.95" stroke-linejoin="round"/>
<path d="M444.3 197.5L446.4 201.28L442.2 201.28Z" fill="#fff" stroke="#0b5cb5" stroke-width="0.95" stroke-linejoin="round"/>
<path d="M446.7 200.8L448.8 204.58L444.6 204.58Z" fill="#fff" stroke="#0b5cb5" stroke-width="0.95" stroke-linejoin="round"/>
<path d="M443.4 207.3L445.5 211.08L441.3 211.08Z" fill="#fff" stroke="#0b5cb5" stroke-width="0.95" stroke-linejoin="round"/>
<path d="M443.4 217.6L445.5 221.38L441.3 221.38Z" fill="#fff" stroke="#0b5cb5" stroke-width="0.95" stroke-linejoin="round"/>
<path d="M443.4 223.1L445.5 226.88L441.3 226.88Z" fill="#fff" stroke="#0b5cb5" stroke-width="0.95" stroke-linejoin="round"/>
<rect x="456.3" y="159.8" width="10" height="3.6" fill="#fff" stroke="#333" stroke-width="0.8"/>
<rect x="456.3" y="171.9" width="10" height="3.6" fill="#bfc0c2" stroke="#333" stroke-width="0.8"/>
<rect x="456.3" y="184.3" width="10" height="3.6" fill="#0a6ecd" stroke="#0a6ecd" stroke-width="0.8"/>
<text x="471.7" y="164.1" class="G">SAMR1</text>
<text x="471.7" y="176.2" class="G">SAMP8</text>
<text x="471.7" y="188.6" class="G">SAMP8+Daphnetin</text>
<text x="5.8" y="284.2" class="L">F</text>
<line x1="41" y1="295" x2="41" y2="390.5" class="ax"/>
<line x1="36.8" y1="389.9" x2="229" y2="389.9" class="ax"/>
<text x="35.6" y="392.2" class="T">0</text>
<line x1="36.8" y1="366.32" x2="41" y2="366.32" class="tk"/>
<text x="35.6" y="368.62" class="T">200</text>
<line x1="36.8" y1="342.75" x2="41" y2="342.75" class="tk"/>
<text x="35.6" y="345.05" class="T">400</text>
<line x1="36.8" y1="319.18" x2="41" y2="319.18" class="tk"/>
<text x="35.6" y="321.48" class="T">600</text>
<line x1="36.8" y1="295.6" x2="41" y2="295.6" class="tk"/>
<text x="35.6" y="297.9" class="T">800</text>
<text transform="translate(19.8,341.8) rotate(-90)" class="Y">Relative content in bone tissue (%)</text>
<text x="62.9" y="398.7" class="C">BAP</text>
<text x="111.5" y="398.7" class="C">BGP</text>
<text x="158.4" y="398.7" class="C">OPG</text>
<text x="208.6" y="398.7" class="C">P1NP</text>
<circle cx="47.5" cy="376.2" r="1.35" fill="#b0a960"/>
<circle cx="49.5" cy="377.2" r="1.35" fill="#b0a960"/>
<circle cx="51.5" cy="378" r="1.35" fill="#b0a960"/>
<circle cx="53.5" cy="379.2" r="1.35" fill="#b0a960"/>
<circle cx="54.5" cy="380" r="1.35" fill="#b0a960"/>
<circle cx="50.5" cy="379.5" r="1.35" fill="#b0a960"/>
<circle cx="48.5" cy="378.5" r="1.35" fill="#b0a960"/>
<line x1="46.75" y1="378" x2="54.25" y2="378" stroke="#bdb67a" stroke-width="1.0"/>
<line x1="50.5" y1="376.8" x2="50.5" y2="379.4" stroke="#bdb67a" stroke-width="0.85"/>
<line x1="48.75" y1="376.8" x2="52.25" y2="376.8" stroke="#bdb67a" stroke-width="0.85"/>
<line x1="48.75" y1="379.4" x2="52.25" y2="379.4" stroke="#bdb67a" stroke-width="0.85"/>
<circle cx="63.6" cy="347.5" r="1.6" fill="#ff8d1e"/>
<circle cx="59.5" cy="351.2" r="1.6" fill="#ff8d1e"/>
<circle cx="59.1" cy="356.6" r="1.6" fill="#ff8d1e"/>
<circle cx="63.2" cy="357.2" r="1.6" fill="#ff8d1e"/>
<circle cx="63.8" cy="360.7" r="1.6" fill="#ff8d1e"/>
<circle cx="61.8" cy="368" r="1.6" fill="#ff8d1e"/>
<line x1="57.2" y1="356.6" x2="65.8" y2="356.6" stroke="#ff9a33" stroke-width="1.0"/>
<line x1="61.5" y1="354.6" x2="61.5" y2="358.7" stroke="#ff9a33" stroke-width="0.85"/>
<line x1="59.3" y1="354.6" x2="63.7" y2="354.6" stroke="#ff9a33" stroke-width="0.85"/>
<line x1="59.3" y1="358.7" x2="63.7" y2="358.7" stroke="#ff9a33" stroke-width="0.85"/>
<path d="M72.7 349.65L74.55 346.23L70.85 346.23Z" fill="#c4000c"/>
<path d="M69.3 372.55L71.15 369.13L67.45 369.13Z" fill="#c4000c"/>
<path d="M74.1 372.85L75.95 369.43L72.25 369.43Z" fill="#c4000c"/>
<path d="M70.7 378.25L72.55 374.83L68.85 374.83Z" fill="#c4000c"/>
<path d="M73.2 378.85L75.05 375.43L71.35 375.43Z" fill="#c4000c"/>
<path d="M75.4 381.05L77.25 377.63L73.55 377.63Z" fill="#c4000c"/>
<line x1="68.4" y1="371" x2="77" y2="371" stroke="#c4000c" stroke-width="1.0"/>
<line x1="72.7" y1="366.2" x2="72.7" y2="375.1" stroke="#c4000c" stroke-width="0.85"/>
<line x1="70.5" y1="366.2" x2="74.9" y2="366.2" stroke="#c4000c" stroke-width="0.85"/>
<line x1="70.5" y1="375.1" x2="74.9" y2="375.1" stroke="#c4000c" stroke-width="0.85"/>
<path d="M50.5 336.6V331.7H72.3V336.6" class="br"/>
<line x1="61.8" y1="331.7" x2="61.8" y2="336.6" stroke="#555" stroke-width="1.35"/>
<circle cx="54.15" cy="326.6" r="1.4" class="st"/>
<circle cx="58.45" cy="326.6" r="1.4" class="st"/>
<circle cx="67.9" cy="326.6" r="1.4" class="st"/>
<circle cx="101" cy="371.7" r="1.35" fill="#b0a960"/>
<circle cx="96.7" cy="374.5" r="1.35" fill="#b0a960"/>
<circle cx="98.5" cy="377.5" r="1.35" fill="#b0a960"/>
<circle cx="101.2" cy="378.3" r="1.35" fill="#b0a960"/>
<circle cx="96.7" cy="378.5" r="1.35" fill="#b0a960"/>
<circle cx="101" cy="383.7" r="1.35" fill="#b0a960"/>
<line x1="94.5" y1="378" x2="103.1" y2="378" stroke="#bdb67a" stroke-width="1.0"/>
<line x1="98.8" y1="375.5" x2="98.8" y2="380.5" stroke="#bdb67a" stroke-width="0.85"/>
<line x1="96.6" y1="375.5" x2="101" y2="375.5" stroke="#bdb67a" stroke-width="0.85"/>
<line x1="96.6" y1="380.5" x2="101" y2="380.5" stroke="#bdb67a" stroke-width="0.85"/>
<circle cx="112.5" cy="312.6" r="1.6" fill="#ff8d1e"/>
<circle cx="108.1" cy="315.9" r="1.6" fill="#ff8d1e"/>
<circle cx="110" cy="335.9" r="1.6" fill="#ff8d1e"/>
<circle cx="110" cy="345.6" r="1.6" fill="#ff8d1e"/>
<circle cx="108.1" cy="352" r="1.6" fill="#ff8d1e"/>
<circle cx="112.5" cy="354" r="1.6" fill="#ff8d1e"/>
<line x1="105.7" y1="336" x2="114.3" y2="336" stroke="#ff9a33" stroke-width="1.0"/>
<line x1="110" y1="328.8" x2="110" y2="343.1" stroke="#ff9a33" stroke-width="0.85"/>
<line x1="107.8" y1="328.8" x2="112.2" y2="328.8" stroke="#ff9a33" stroke-width="0.85"/>
<line x1="107.8" y1="343.1" x2="112.2" y2="343.1" stroke="#ff9a33" stroke-width="0.85"/>
<path d="M120.9 347.85L122.75 344.43L119.05 344.43Z" fill="#c4000c"/>
<path d="M119.5 355.45L121.35 352.03L117.65 352.03Z" fill="#c4000c"/>
<path d="M122.8 358.85L124.65 355.43L120.95 355.43Z" fill="#c4000c"/>
<path d="M121.2 361.85L123.05 358.43L119.35 358.43Z" fill="#c4000c"/>
<path d="M118.2 366.85L120.05 363.43L116.35 363.43Z" fill="#c4000c"/>
<path d="M121.4 368.35L123.25 364.93L119.55 364.93Z" fill="#c4000c"/>
<path d="M123.9 371.65L125.75 368.23L122.05 368.23Z" fill="#c4000c"/>
<line x1="116.9" y1="360.2" x2="125.5" y2="360.2" stroke="#c4000c" stroke-width="1.0"/>
<line x1="121.2" y1="357" x2="121.2" y2="363.5" stroke="#c4000c" stroke-width="0.85"/>
<line x1="119" y1="357" x2="123.4" y2="357" stroke="#c4000c" stroke-width="0.85"/>
<line x1="119" y1="363.5" x2="123.4" y2="363.5" stroke="#c4000c" stroke-width="0.85"/>
<path d="M99.1 301.6V296.8H120.9V301.6" class="br"/>
<line x1="110" y1="296.8" x2="110" y2="301.6" stroke="#555" stroke-width="1.35"/>
<circle cx="102.15" cy="291.7" r="1.4" class="st"/>
<circle cx="106.45" cy="291.7" r="1.4" class="st"/>
<circle cx="115.7" cy="291.7" r="1.4" class="st"/>
<circle cx="147.6" cy="373.3" r="1.35" fill="#b0a960"/>
<circle cx="145" cy="376.8" r="1.35" fill="#b0a960"/>
<circle cx="147" cy="377.5" r="1.35" fill="#b0a960"/>
<circle cx="149" cy="378.2" r="1.35" fill="#b0a960"/>
<circle cx="150.7" cy="378.5" r="1.35" fill="#b0a960"/>
<circle cx="146.5" cy="378.8" r="1.35" fill="#b0a960"/>
<circle cx="149.5" cy="379.4" r="1.35" fill="#b0a960"/>
<line x1="143.85" y1="377.5" x2="151.35" y2="377.5" stroke="#bdb67a" stroke-width="1.0"/>
<line x1="147.6" y1="376.3" x2="147.6" y2="378.7" stroke="#bdb67a" stroke-width="0.85"/>
<line x1="145.85" y1="376.3" x2="149.35" y2="376.3" stroke="#bdb67a" stroke-width="0.85"/>
<line x1="145.85" y1="378.7" x2="149.35" y2="378.7" stroke="#bdb67a" stroke-width="0.85"/>
<circle cx="158.4" cy="336.7" r="1.6" fill="#ff8d1e"/>
<circle cx="158.4" cy="342.1" r="1.6" fill="#ff8d1e"/>
<circle cx="156.2" cy="359.4" r="1.6" fill="#ff8d1e"/>
<circle cx="160.9" cy="360.6" r="1.6" fill="#ff8d1e"/>
<circle cx="156.2" cy="364" r="1.6" fill="#ff8d1e"/>
<circle cx="160.9" cy="366.5" r="1.6" fill="#ff8d1e"/>
<line x1="154.3" y1="354.7" x2="162.9" y2="354.7" stroke="#ff9a33" stroke-width="1.0"/>
<line x1="158.6" y1="349.8" x2="158.6" y2="359" stroke="#ff9a33" stroke-width="0.85"/>
<line x1="156.4" y1="349.8" x2="160.8" y2="349.8" stroke="#ff9a33" stroke-width="0.85"/>
<line x1="156.4" y1="359" x2="160.8" y2="359" stroke="#ff9a33" stroke-width="0.85"/>
<path d="M169.7 363.95L171.55 360.53L167.85 360.53Z" fill="#c4000c"/>
<path d="M167 376.05L168.85 372.63L165.15 372.63Z" fill="#c4000c"/>
<path d="M170.7 375.55L172.55 372.13L168.85 372.13Z" fill="#c4000c"/>
<path d="M168.3 377.85L170.15 374.43L166.45 374.43Z" fill="#c4000c"/>
<path d="M171.2 379.45L173.05 376.03L169.35 376.03Z" fill="#c4000c"/>
<path d="M172 383.25L173.85 379.83L170.15 379.83Z" fill="#c4000c"/>
<line x1="165.5" y1="375.3" x2="174.1" y2="375.3" stroke="#c4000c" stroke-width="1.0"/>
<line x1="169.8" y1="373" x2="169.8" y2="377.6" stroke="#c4000c" stroke-width="0.85"/>
<line x1="167.6" y1="373" x2="172" y2="373" stroke="#c4000c" stroke-width="0.85"/>
<line x1="167.6" y1="377.6" x2="172" y2="377.6" stroke="#c4000c" stroke-width="0.85"/>
<path d="M147.3 324.7V319.7H169.7V324.7" class="br"/>
<line x1="158.1" y1="319.7" x2="158.1" y2="324.7" stroke="#555" stroke-width="1.35"/>
<circle cx="150.55" cy="314" r="1.4" class="st"/>
<circle cx="154.85" cy="314" r="1.4" class="st"/>
<circle cx="162.15" cy="314" r="1.4" class="st"/>
<circle cx="166.45" cy="314" r="1.4" class="st"/>
<circle cx="193.5" cy="376.2" r="1.35" fill="#b0a960"/>
<circle cx="195" cy="377" r="1.35" fill="#b0a960"/>
<circle cx="196.5" cy="377.8" r="1.35" fill="#b0a960"/>
<circle cx="198" cy="378.6" r="1.35" fill="#b0a960"/>
<circle cx="199.3" cy="379.4" r="1.35" fill="#b0a960"/>
<circle cx="194.5" cy="378.4" r="1.35" fill="#b0a960"/>
<line x1="191.85" y1="378" x2="199.35" y2="378" stroke="#bdb67a" stroke-width="1.0"/>
<line x1="195.6" y1="377" x2="195.6" y2="379.2" stroke="#bdb67a" stroke-width="0.85"/>
<line x1="193.85" y1="377" x2="197.35" y2="377" stroke="#bdb67a" stroke-width="0.85"/>
<line x1="193.85" y1="379.2" x2="197.35" y2="379.2" stroke="#bdb67a" stroke-width="0.85"/>
<circle cx="204.9" cy="350.6" r="1.6" fill="#ff8d1e"/>
<circle cx="207.4" cy="350.3" r="1.6" fill="#ff8d1e"/>
<circle cx="209.2" cy="354.6" r="1.6" fill="#ff8d1e"/>
<circle cx="207" cy="359" r="1.6" fill="#ff8d1e"/>
<circle cx="204.9" cy="367.4" r="1.6" fill="#ff8d1e"/>
<circle cx="209.2" cy="370" r="1.6" fill="#ff8d1e"/>
<line x1="202.9" y1="359.2" x2="211.5" y2="359.2" stroke="#ff9a33" stroke-width="1.0"/>
<line x1="207.2" y1="356.3" x2="207.2" y2="362.3" stroke="#ff9a33" stroke-width="0.85"/>
<line x1="205" y1="356.3" x2="209.4" y2="356.3" stroke="#ff9a33" stroke-width="0.85"/>
<line x1="205" y1="362.3" x2="209.4" y2="362.3" stroke="#ff9a33" stroke-width="0.85"/>
<path d="M220.1 363.25L221.95 359.83L218.25 359.83Z" fill="#c4000c"/>
<path d="M216 367.45L217.85 364.03L214.15 364.03Z" fill="#c4000c"/>
<path d="M219.8 367.85L221.65 364.43L217.95 364.43Z" fill="#c4000c"/>
<path d="M215.3 373.45L217.15 370.03L213.45 370.03Z" fill="#c4000c"/>
<path d="M220.4 374.05L222.25 370.63L218.55 370.63Z" fill="#c4000c"/>
<path d="M217.8 375.85L219.65 372.43L215.95 372.43Z" fill="#c4000c"/>
<path d="M216 379.85L217.85 376.43L214.15 376.43Z" fill="#c4000c"/>
<path d="M220.1 380.15L221.95 376.73L218.25 376.73Z" fill="#c4000c"/>
<line x1="213.8" y1="371.6" x2="222.4" y2="371.6" stroke="#c4000c" stroke-width="1.0"/>
<line x1="218.1" y1="369.7" x2="218.1" y2="373.5" stroke="#c4000c" stroke-width="0.85"/>
<line x1="215.9" y1="369.7" x2="220.3" y2="369.7" stroke="#c4000c" stroke-width="0.85"/>
<line x1="215.9" y1="373.5" x2="220.3" y2="373.5" stroke="#c4000c" stroke-width="0.85"/>
<path d="M196.4 339.5V335H218.1V339.5" class="br"/>
<line x1="207" y1="335" x2="207" y2="339.5" stroke="#555" stroke-width="1.35"/>
<circle cx="199.15" cy="329.2" r="1.4" class="st"/>
<circle cx="203.45" cy="329.2" r="1.4" class="st"/>
<circle cx="213" cy="329.2" r="1.4" class="st"/>
<text x="251.2" y="283.2" class="L">G</text>
<line x1="291.1" y1="294" x2="291.1" y2="389.7" class="ax"/>
<line x1="286.9" y1="389.1" x2="430.9" y2="389.1" class="ax"/>
<text x="285.7" y="391.4" class="T">0</text>
<line x1="286.9" y1="365.48" x2="291.1" y2="365.48" class="tk"/>
<text x="285.7" y="367.78" class="T">200</text>
<line x1="286.9" y1="341.85" x2="291.1" y2="341.85" class="tk"/>
<text x="285.7" y="344.15" class="T">400</text>
<line x1="286.9" y1="318.23" x2="291.1" y2="318.23" class="tk"/>
<text x="285.7" y="320.53" class="T">600</text>
<line x1="286.9" y1="294.6" x2="291.1" y2="294.6" class="tk"/>
<text x="285.7" y="296.9" class="T">800</text>
<text transform="translate(271,342.3) rotate(-90)" class="Y">Relative content in bone tissue (%)</text>
<text x="313" y="398" class="C">β-CTX</text>
<text x="362.1" y="398" class="C">RANKL</text>
<text x="411.8" y="398" class="C">TRACP-5b</text>
<circle cx="299" cy="369.6" r="1.35" fill="#b0a960"/>
<circle cx="301.6" cy="369.6" r="1.35" fill="#b0a960"/>
<circle cx="300.3" cy="374" r="1.35" fill="#b0a960"/>
<circle cx="298.5" cy="377" r="1.35" fill="#b0a960"/>
<circle cx="302.2" cy="378.5" r="1.35" fill="#b0a960"/>
<circle cx="299.4" cy="381.1" r="1.35" fill="#b0a960"/>
<circle cx="303.1" cy="383.5" r="1.35" fill="#b0a960"/>
<line x1="296" y1="376.7" x2="304.6" y2="376.7" stroke="#bdb67a" stroke-width="1.0"/>
<line x1="300.3" y1="373.7" x2="300.3" y2="379.8" stroke="#bdb67a" stroke-width="0.85"/>
<line x1="298.1" y1="373.7" x2="302.5" y2="373.7" stroke="#bdb67a" stroke-width="0.85"/>
<line x1="298.1" y1="379.8" x2="302.5" y2="379.8" stroke="#bdb67a" stroke-width="0.85"/>
<circle cx="309.6" cy="323" r="1.6" fill="#ff8d1e"/>
<circle cx="313.9" cy="320" r="1.6" fill="#ff8d1e"/>
<circle cx="311.6" cy="333" r="1.6" fill="#ff8d1e"/>
<circle cx="311.4" cy="339.1" r="1.6" fill="#ff8d1e"/>
<circle cx="309" cy="343.3" r="1.6" fill="#ff8d1e"/>
<circle cx="313.9" cy="344.6" r="1.6" fill="#ff8d1e"/>
<line x1="307.3" y1="334.1" x2="315.9" y2="334.1" stroke="#ff9a33" stroke-width="1.0"/>
<line x1="311.6" y1="329.8" x2="311.6" y2="338.5" stroke="#ff9a33" stroke-width="0.85"/>
<line x1="309.4" y1="329.8" x2="313.8" y2="329.8" stroke="#ff9a33" stroke-width="0.85"/>
<line x1="309.4" y1="338.5" x2="313.8" y2="338.5" stroke="#ff9a33" stroke-width="0.85"/>
<path d="M320.7 344.05L322.55 340.63L318.85 340.63Z" fill="#c4000c"/>
<path d="M325 341.85L326.85 338.43L323.15 338.43Z" fill="#c4000c"/>
<path d="M321.5 353.85L323.35 350.43L319.65 350.43Z" fill="#c4000c"/>
<path d="M323.1 357.55L324.95 354.13L321.25 354.13Z" fill="#c4000c"/>
<path d="M325 359.45L326.85 356.03L323.15 356.03Z" fill="#c4000c"/>
<path d="M320.1 363.15L321.95 359.73L318.25 359.73Z" fill="#c4000c"/>
<path d="M325 364.05L326.85 360.63L323.15 360.63Z" fill="#c4000c"/>
<line x1="318.4" y1="353.9" x2="327" y2="353.9" stroke="#c4000c" stroke-width="1.0"/>
<line x1="322.7" y1="349.6" x2="322.7" y2="358.1" stroke="#c4000c" stroke-width="0.85"/>
<line x1="320.5" y1="349.6" x2="324.9" y2="349.6" stroke="#c4000c" stroke-width="0.85"/>
<line x1="320.5" y1="358.1" x2="324.9" y2="358.1" stroke="#c4000c" stroke-width="0.85"/>
<path d="M300.3 309.8V305.7H322V309.8" class="br"/>
<line x1="311.4" y1="305.7" x2="311.4" y2="309.8" stroke="#555" stroke-width="1.35"/>
<circle cx="303.75" cy="299.3" r="1.4" class="st"/>
<circle cx="308.05" cy="299.3" r="1.4" class="st"/>
<circle cx="314.85" cy="299.3" r="1.4" class="st"/>
<circle cx="319.15" cy="299.3" r="1.4" class="st"/>
<circle cx="346.5" cy="376.5" r="1.35" fill="#b0a960"/>
<circle cx="348.3" cy="377" r="1.35" fill="#b0a960"/>
<circle cx="350" cy="377.5" r="1.35" fill="#b0a960"/>
<circle cx="351.8" cy="378" r="1.35" fill="#b0a960"/>
<circle cx="353" cy="378.2" r="1.35" fill="#b0a960"/>
<circle cx="347.5" cy="378.3" r="1.35" fill="#b0a960"/>
<line x1="345.55" y1="377.5" x2="353.05" y2="377.5" stroke="#bdb67a" stroke-width="1.0"/>
<line x1="349.3" y1="376.5" x2="349.3" y2="378.5" stroke="#bdb67a" stroke-width="0.85"/>
<line x1="347.55" y1="376.5" x2="351.05" y2="376.5" stroke="#bdb67a" stroke-width="0.85"/>
<line x1="347.55" y1="378.5" x2="351.05" y2="378.5" stroke="#bdb67a" stroke-width="0.85"/>
<circle cx="360.6" cy="344.6" r="1.6" fill="#ff8d1e"/>
<circle cx="360.6" cy="354" r="1.6" fill="#ff8d1e"/>
<circle cx="358.7" cy="357.5" r="1.6" fill="#ff8d1e"/>
<circle cx="362.2" cy="358.5" r="1.6" fill="#ff8d1e"/>
<circle cx="357.9" cy="362.5" r="1.6" fill="#ff8d1e"/>
<circle cx="363.6" cy="364.9" r="1.6" fill="#ff8d1e"/>
<line x1="356.2" y1="358.5" x2="364.8" y2="358.5" stroke="#ff9a33" stroke-width="1.0"/>
<line x1="360.5" y1="356.3" x2="360.5" y2="360.7" stroke="#ff9a33" stroke-width="0.85"/>
<line x1="358.3" y1="356.3" x2="362.7" y2="356.3" stroke="#ff9a33" stroke-width="0.85"/>
<line x1="358.3" y1="360.7" x2="362.7" y2="360.7" stroke="#ff9a33" stroke-width="0.85"/>
<path d="M371.3 360.35L373.15 356.93L369.45 356.93Z" fill="#c4000c"/>
<path d="M370.2 363.85L372.05 360.43L368.35 360.43Z" fill="#c4000c"/>
<path d="M373.6 366.35L375.45 362.93L371.75 362.93Z" fill="#c4000c"/>
<path d="M369.1 369.35L370.95 365.93L367.25 365.93Z" fill="#c4000c"/>
<path d="M372.1 371.55L373.95 368.13L370.25 368.13Z" fill="#c4000c"/>
<path d="M370.5 372.35L372.35 368.93L368.65 368.93Z" fill="#c4000c"/>
<path d="M374.6 374.55L376.45 371.13L372.75 371.13Z" fill="#c4000c"/>
<line x1="367.6" y1="367.5" x2="376.2" y2="367.5" stroke="#c4000c" stroke-width="1.0"/>
<line x1="371.9" y1="365.5" x2="371.9" y2="369.5" stroke="#c4000c" stroke-width="0.85"/>
<line x1="369.7" y1="365.5" x2="374.1" y2="365.5" stroke="#c4000c" stroke-width="0.85"/>
<line x1="369.7" y1="369.5" x2="374.1" y2="369.5" stroke="#c4000c" stroke-width="0.85"/>
<path d="M349.3 332.8V328.2H371.3V332.8" class="br"/>
<line x1="360.1" y1="328.2" x2="360.1" y2="332.8" stroke="#555" stroke-width="1.35"/>
<circle cx="352.05" cy="322.2" r="1.4" class="st"/>
<circle cx="356.35" cy="322.2" r="1.4" class="st"/>
<circle cx="366.6" cy="322.2" r="1.4" class="st"/>
<circle cx="398.7" cy="372.1" r="1.35" fill="#b0a960"/>
<circle cx="395.5" cy="375.8" r="1.35" fill="#b0a960"/>
<circle cx="397.5" cy="376.8" r="1.35" fill="#b0a960"/>
<circle cx="399.5" cy="377.6" r="1.35" fill="#b0a960"/>
<circle cx="401.5" cy="378.6" r="1.35" fill="#b0a960"/>
<circle cx="403" cy="379.6" r="1.35" fill="#b0a960"/>
<circle cx="397" cy="378" r="1.35" fill="#b0a960"/>
<line x1="394.95" y1="376.5" x2="402.45" y2="376.5" stroke="#bdb67a" stroke-width="1.0"/>
<line x1="398.7" y1="375.5" x2="398.7" y2="377.8" stroke="#bdb67a" stroke-width="0.85"/>
<line x1="396.95" y1="375.5" x2="400.45" y2="375.5" stroke="#bdb67a" stroke-width="0.85"/>
<line x1="396.95" y1="377.8" x2="400.45" y2="377.8" stroke="#bdb67a" stroke-width="0.85"/>
<circle cx="409.9" cy="348.6" r="1.6" fill="#ff8d1e"/>
<circle cx="409.9" cy="354.9" r="1.6" fill="#ff8d1e"/>
<circle cx="407.5" cy="358.4" r="1.6" fill="#ff8d1e"/>
<circle cx="411.8" cy="359" r="1.6" fill="#ff8d1e"/>
<circle cx="412.7" cy="361.4" r="1.6" fill="#ff8d1e"/>
<circle cx="409.9" cy="368.8" r="1.6" fill="#ff8d1e"/>
<line x1="405.6" y1="359.5" x2="414.2" y2="359.5" stroke="#ff9a33" stroke-width="1.0"/>
<line x1="409.9" y1="357" x2="409.9" y2="362" stroke="#ff9a33" stroke-width="0.85"/>
<line x1="407.7" y1="357" x2="412.1" y2="357" stroke="#ff9a33" stroke-width="0.85"/>
<line x1="407.7" y1="362" x2="412.1" y2="362" stroke="#ff9a33" stroke-width="0.85"/>
<path d="M421 357.45L422.85 354.03L419.15 354.03Z" fill="#c4000c"/>
<path d="M418.7 369.75L420.55 366.33L416.85 366.33Z" fill="#c4000c"/>
<path d="M422.5 368.35L424.35 364.93L420.65 364.93Z" fill="#c4000c"/>
<path d="M424.3 369.95L426.15 366.53L422.45 366.53Z" fill="#c4000c"/>
<path d="M420 371.85L421.85 368.43L418.15 368.43Z" fill="#c4000c"/>
<path d="M423.3 374.15L425.15 370.73L421.45 370.73Z" fill="#c4000c"/>
<line x1="417.2" y1="367.9" x2="425.8" y2="367.9" stroke="#c4000c" stroke-width="1.0"/>
<line x1="421.5" y1="365.8" x2="421.5" y2="370" stroke="#c4000c" stroke-width="0.85"/>
<line x1="419.3" y1="365.8" x2="423.7" y2="365.8" stroke="#c4000c" stroke-width="0.85"/>
<line x1="419.3" y1="370" x2="423.7" y2="370" stroke="#c4000c" stroke-width="0.85"/>
<path d="M398.7 335.7V331.1H420.5V335.7" class="br"/>
<line x1="409.6" y1="331.1" x2="409.6" y2="335.7" stroke="#555" stroke-width="1.35"/>
<circle cx="401.85" cy="325.1" r="1.4" class="st"/>
<circle cx="406.15" cy="325.1" r="1.4" class="st"/>
<circle cx="415.2" cy="325.1" r="1.4" class="st"/>
<circle cx="449" cy="296.1" r="1.35" fill="#b0a960"/>
<text x="459.3" y="298.6" class="G">Control</text>
<circle cx="449" cy="308.3" r="1.6" fill="#ff8d1e"/>
<text x="459.3" y="310.8" class="G">Unloading</text>
<path d="M449 322.65L450.85 319.23L447.15 319.23Z" fill="#c4000c"/>
<text x="459.3" y="323.3" class="G">Unloading+Daphnetin</text>
<text x="6.4" y="424.6" class="L">H</text>
<line x1="41" y1="432.8" x2="41" y2="527.6" class="ax"/>
<line x1="36.8" y1="527" x2="180.6" y2="527" class="ax"/>
<text x="35.6" y="529.3" class="T">0</text>
<line x1="36.8" y1="503.6" x2="41" y2="503.6" class="tk"/>
<text x="35.6" y="505.9" class="T">100</text>
<line x1="36.8" y1="480.2" x2="41" y2="480.2" class="tk"/>
<text x="35.6" y="482.5" class="T">200</text>
<line x1="36.8" y1="456.8" x2="41" y2="456.8" class="tk"/>
<text x="35.6" y="459.1" class="T">300</text>
<line x1="36.8" y1="433.4" x2="41" y2="433.4" class="tk"/>
<text x="35.6" y="435.7" class="T">400</text>
<text transform="translate(20,479.5) rotate(-90)" class="Y">Relative content in serum (%)</text>
<text x="62.2" y="536" class="C">OPG</text>
<text x="111.5" y="536" class="C">RANKL</text>
<text x="160.4" y="536" class="C">TRACP-5b</text>
<circle cx="51.5" cy="496.8" r="1.35" fill="#b0a960"/>
<circle cx="52" cy="500.1" r="1.35" fill="#b0a960"/>
<circle cx="48" cy="503" r="1.35" fill="#b0a960"/>
<circle cx="52.5" cy="503.5" r="1.35" fill="#b0a960"/>
<circle cx="49.5" cy="505" r="1.35" fill="#b0a960"/>
<circle cx="54" cy="506" r="1.35" fill="#b0a960"/>
<circle cx="51" cy="507" r="1.35" fill="#b0a960"/>
<circle cx="53" cy="508" r="1.35" fill="#b0a960"/>
<line x1="46.7" y1="503.7" x2="55.3" y2="503.7" stroke="#bdb67a" stroke-width="1.0"/>
<line x1="51" y1="501.5" x2="51" y2="506" stroke="#bdb67a" stroke-width="0.85"/>
<line x1="48.8" y1="501.5" x2="53.2" y2="501.5" stroke="#bdb67a" stroke-width="0.85"/>
<line x1="48.8" y1="506" x2="53.2" y2="506" stroke="#bdb67a" stroke-width="0.85"/>
<circle cx="61.7" cy="452.9" r="1.6" fill="#ff8d1e"/>
<circle cx="61.7" cy="465.2" r="1.6" fill="#ff8d1e"/>
<circle cx="61.7" cy="476.1" r="1.6" fill="#ff8d1e"/>
<circle cx="59.2" cy="480.7" r="1.6" fill="#ff8d1e"/>
<circle cx="64.1" cy="480.4" r="1.6" fill="#ff8d1e"/>
<circle cx="59.7" cy="488.1" r="1.6" fill="#ff8d1e"/>
<circle cx="64.1" cy="488.9" r="1.6" fill="#ff8d1e"/>
<circle cx="59.7" cy="492.5" r="1.6" fill="#ff8d1e"/>
<circle cx="64.1" cy="494.7" r="1.6" fill="#ff8d1e"/>
<line x1="57.6" y1="480.4" x2="66.2" y2="480.4" stroke="#ff9a33" stroke-width="1.0"/>
<line x1="61.9" y1="477.1" x2="61.9" y2="483.7" stroke="#ff9a33" stroke-width="0.85"/>
<line x1="59.7" y1="477.1" x2="64.1" y2="477.1" stroke="#ff9a33" stroke-width="0.85"/>
<line x1="59.7" y1="483.7" x2="64.1" y2="483.7" stroke="#ff9a33" stroke-width="0.85"/>
<path d="M73.1 480.15L74.95 476.73L71.25 476.73Z" fill="#c4000c"/>
<path d="M71.2 487.85L73.05 484.43L69.35 484.43Z" fill="#c4000c"/>
<path d="M74 488.85L75.85 485.43L72.15 485.43Z" fill="#c4000c"/>
<path d="M76.1 490.45L77.95 487.03L74.25 487.03Z" fill="#c4000c"/>
<path d="M70.5 491.85L72.35 488.43L68.65 488.43Z" fill="#c4000c"/>
<path d="M72.8 496.55L74.65 493.13L70.95 493.13Z" fill="#c4000c"/>
<path d="M71.2 500.65L73.05 497.23L69.35 497.23Z" fill="#c4000c"/>
<path d="M74.5 501.35L76.35 497.93L72.65 497.93Z" fill="#c4000c"/>
<path d="M75.6 504.75L77.45 501.33L73.75 501.33Z" fill="#c4000c"/>
<line x1="68.8" y1="492.2" x2="77.4" y2="492.2" stroke="#c4000c" stroke-width="1.0"/>
<line x1="73.1" y1="489.8" x2="73.1" y2="494.7" stroke="#c4000c" stroke-width="0.85"/>
<line x1="70.9" y1="489.8" x2="75.3" y2="489.8" stroke="#c4000c" stroke-width="0.85"/>
<line x1="70.9" y1="494.7" x2="75.3" y2="494.7" stroke="#c4000c" stroke-width="0.85"/>
<path d="M51 445.9V440.6H72.3V445.9" class="br"/>
<line x1="61.7" y1="440.6" x2="61.7" y2="445.9" stroke="#555" stroke-width="1.35"/>
<circle cx="53.95" cy="436.4" r="0.85" class="st"/>
<circle cx="57.85" cy="436.4" r="0.85" class="st"/>
<circle cx="66.9" cy="436.4" r="0.85" class="st"/>
<circle cx="97" cy="501.5" r="1.35" fill="#b0a960"/>
<circle cx="98.5" cy="502.5" r="1.35" fill="#b0a960"/>
<circle cx="100" cy="503.5" r="1.35" fill="#b0a960"/>
<circle cx="101.5" cy="504.5" r="1.35" fill="#b0a960"/>
<circle cx="103" cy="505.5" r="1.35" fill="#b0a960"/>
<circle cx="98" cy="505" r="1.35" fill="#b0a960"/>
<circle cx="101" cy="506.5" r="1.35" fill="#b0a960"/>
<line x1="95.85" y1="504" x2="103.35" y2="504" stroke="#bdb67a" stroke-width="1.0"/>
<line x1="99.6" y1="502.5" x2="99.6" y2="505.5" stroke="#bdb67a" stroke-width="0.85"/>
<line x1="97.85" y1="502.5" x2="101.35" y2="502.5" stroke="#bdb67a" stroke-width="0.85"/>
<line x1="97.85" y1="505.5" x2="101.35" y2="505.5" stroke="#bdb67a" stroke-width="0.85"/>
<circle cx="107.8" cy="472" r="1.6" fill="#ff8d1e"/>
<circle cx="109.8" cy="472" r="1.6" fill="#ff8d1e"/>
<circle cx="111.8" cy="472.2" r="1.6" fill="#ff8d1e"/>
<circle cx="113.6" cy="472.4" r="1.6" fill="#ff8d1e"/>
<circle cx="111" cy="477.9" r="1.6" fill="#ff8d1e"/>
<circle cx="108.9" cy="489.8" r="1.6" fill="#ff8d1e"/>
<circle cx="111.9" cy="490.6" r="1.6" fill="#ff8d1e"/>
<circle cx="108.9" cy="496.2" r="1.6" fill="#ff8d1e"/>
<circle cx="111.9" cy="496.2" r="1.6" fill="#ff8d1e"/>
<line x1="106.6" y1="483.2" x2="115.2" y2="483.2" stroke="#ff9a33" stroke-width="1.0"/>
<line x1="110.9" y1="477.5" x2="110.9" y2="486.4" stroke="#ff9a33" stroke-width="0.85"/>
<line x1="108.7" y1="477.5" x2="113.1" y2="477.5" stroke="#ff9a33" stroke-width="0.85"/>
<line x1="108.7" y1="486.4" x2="113.1" y2="486.4" stroke="#ff9a33" stroke-width="0.85"/>
<path d="M122.1 486.35L123.95 482.93L120.25 482.93Z" fill="#c4000c"/>
<path d="M120.6 490.85L122.45 487.43L118.75 487.43Z" fill="#c4000c"/>
<path d="M123.4 491.45L125.25 488.03L121.55 488.03Z" fill="#c4000c"/>
<path d="M119.3 493.35L121.15 489.93L117.45 489.93Z" fill="#c4000c"/>
<path d="M124.6 494.65L126.45 491.23L122.75 491.23Z" fill="#c4000c"/>
<path d="M121.2 495.45L123.05 492.03L119.35 492.03Z" fill="#c4000c"/>
<path d="M123.8 496.25L125.65 492.83L121.95 492.83Z" fill="#c4000c"/>
<path d="M122.1 502.85L123.95 499.43L120.25 499.43Z" fill="#c4000c"/>
<line x1="117.8" y1="489.8" x2="126.4" y2="489.8" stroke="#c4000c" stroke-width="1.0"/>
<line x1="122.1" y1="487.5" x2="122.1" y2="492" stroke="#c4000c" stroke-width="0.85"/>
<line x1="119.9" y1="487.5" x2="124.3" y2="487.5" stroke="#c4000c" stroke-width="0.85"/>
<line x1="119.9" y1="492" x2="124.3" y2="492" stroke="#c4000c" stroke-width="0.85"/>
<path d="M99.9 462.6V458.4H121.2V462.6" class="br"/>
<line x1="110.6" y1="458.4" x2="110.6" y2="462.6" stroke="#555" stroke-width="1.35"/>
<circle cx="103.05" cy="454.2" r="0.85" class="st"/>
<circle cx="106.95" cy="454.2" r="0.85" class="st"/>
<circle cx="116.1" cy="454.2" r="0.85" class="st"/>
<circle cx="148" cy="494.5" r="1.35" fill="#b0a960"/>
<circle cx="149.8" cy="498.2" r="1.35" fill="#b0a960"/>
<circle cx="146.2" cy="503.6" r="1.35" fill="#b0a960"/>
<circle cx="150.7" cy="504.5" r="1.35" fill="#b0a960"/>
<circle cx="148.5" cy="505.4" r="1.35" fill="#b0a960"/>
<circle cx="151.6" cy="508.2" r="1.35" fill="#b0a960"/>
<circle cx="148.9" cy="513.6" r="1.35" fill="#b0a960"/>
<line x1="144.2" y1="504" x2="152.8" y2="504" stroke="#bdb67a" stroke-width="1.0"/>
<line x1="148.5" y1="501.5" x2="148.5" y2="506.5" stroke="#bdb67a" stroke-width="0.85"/>
<line x1="146.3" y1="501.5" x2="150.7" y2="501.5" stroke="#bdb67a" stroke-width="0.85"/>
<line x1="146.3" y1="506.5" x2="150.7" y2="506.5" stroke="#bdb67a" stroke-width="0.85"/>
<circle cx="159.8" cy="445.8" r="1.6" fill="#ff8d1e"/>
<circle cx="159.8" cy="454.2" r="1.6" fill="#ff8d1e"/>
<circle cx="159.8" cy="460" r="1.6" fill="#ff8d1e"/>
<circle cx="159.8" cy="464.5" r="1.6" fill="#ff8d1e"/>
<circle cx="158" cy="469.1" r="1.6" fill="#ff8d1e"/>
<circle cx="160.8" cy="470.5" r="1.6" fill="#ff8d1e"/>
<circle cx="159.8" cy="479.1" r="1.6" fill="#ff8d1e"/>
<circle cx="159.8" cy="493.6" r="1.6" fill="#ff8d1e"/>
<circle cx="159.8" cy="507.6" r="1.6" fill="#ff8d1e"/>
<line x1="155.7" y1="471.3" x2="164.3" y2="471.3" stroke="#ff9a33" stroke-width="1.0"/>
<line x1="160" y1="467" x2="160" y2="475.5" stroke="#ff9a33" stroke-width="0.85"/>
<line x1="157.8" y1="467" x2="162.2" y2="467" stroke="#ff9a33" stroke-width="0.85"/>
<line x1="157.8" y1="475.5" x2="162.2" y2="475.5" stroke="#ff9a33" stroke-width="0.85"/>
<path d="M172.2 479.65L174.05 476.23L170.35 476.23Z" fill="#c4000c"/>
<path d="M170.5 482.85L172.35 479.43L168.65 479.43Z" fill="#c4000c"/>
<path d="M171.6 486.95L173.45 483.53L169.75 483.53Z" fill="#c4000c"/>
<path d="M169.3 493.65L171.15 490.23L167.45 490.23Z" fill="#c4000c"/>
<path d="M172.6 494.55L174.45 491.13L170.75 491.13Z" fill="#c4000c"/>
<path d="M170.8 496.05L172.65 492.63L168.95 492.63Z" fill="#c4000c"/>
<path d="M171.1 501.85L172.95 498.43L169.25 498.43Z" fill="#c4000c"/>
<path d="M171.1 509.15L172.95 505.73L169.25 505.73Z" fill="#c4000c"/>
<line x1="166.9" y1="491.3" x2="175.5" y2="491.3" stroke="#c4000c" stroke-width="1.0"/>
<line x1="171.2" y1="488.5" x2="171.2" y2="494" stroke="#c4000c" stroke-width="0.85"/>
<line x1="169" y1="488.5" x2="173.4" y2="488.5" stroke="#c4000c" stroke-width="0.85"/>
<line x1="169" y1="494" x2="173.4" y2="494" stroke="#c4000c" stroke-width="0.85"/>
<path d="M148.5 438.2V433.1H170.4V438.2" class="br"/>
<line x1="159.8" y1="433.1" x2="159.8" y2="438.2" stroke="#555" stroke-width="1.35"/>
<circle cx="151.55" cy="429.1" r="0.85" class="st"/>
<circle cx="155.45" cy="429.1" r="0.85" class="st"/>
<circle cx="163.35" cy="429.1" r="0.85" class="st"/>
<circle cx="167.25" cy="429.1" r="0.85" class="st"/>
<circle cx="184.7" cy="434.6" r="1.35" fill="#b0a960"/>
<text x="195.6" y="437.1" class="G">Control</text>
<circle cx="184.7" cy="447.1" r="1.6" fill="#ff8d1e"/>
<text x="195.6" y="449.6" class="G">Unloading</text>
<path d="M184.7 461.35L186.55 457.93L182.85 457.93Z" fill="#c4000c"/>
<text x="195.6" y="462" class="G">Unloading+Daphnetin</text>
<text x="250.4" y="424" class="L">I</text>
<line x1="294" y1="436" x2="294" y2="530.6" class="ax"/>
<line x1="289.8" y1="530" x2="350.9" y2="530" class="ax"/>
<text x="288.6" y="532.3" class="T">0.0</text>
<line x1="289.8" y1="498.87" x2="294" y2="498.87" class="tk"/>
<text x="288.6" y="501.17" class="T">0.5</text>
<line x1="289.8" y1="467.73" x2="294" y2="467.73" class="tk"/>
<text x="288.6" y="470.03" class="T">1.0</text>
<line x1="289.8" y1="436.6" x2="294" y2="436.6" class="tk"/>
<text x="288.6" y="438.9" class="T">1.5</text>
<text transform="translate(274.9,483.2) rotate(-90)" class="Y" style="font-size:7.75px">OPG/RANKL ratio in bone tissue</text>
<line x1="306.35" y1="478.5" x2="306.35" y2="472.2" stroke="#666" stroke-width="0.95"/>
<line x1="304.05" y1="472.2" x2="308.65" y2="472.2" stroke="#666" stroke-width="0.95"/>
<rect x="301.18" y="478.5" width="10.35" height="51.5" fill="#f8f9e4" stroke="#707070" stroke-width="0.75"/>
<line x1="325.5" y1="461.4" x2="325.5" y2="459" stroke="#555" stroke-width="0.95"/>
<line x1="323.2" y1="459" x2="327.8" y2="459" stroke="#555" stroke-width="0.95"/>
<rect x="319.98" y="461.4" width="11.05" height="68.6" fill="#fda040" stroke="#7a6a5a" stroke-width="0.75"/>
<line x1="344.9" y1="495.3" x2="344.9" y2="488.5" stroke="#777" stroke-width="0.95"/>
<line x1="342.6" y1="488.5" x2="347.2" y2="488.5" stroke="#777" stroke-width="0.95"/>
<rect x="339.68" y="495.3" width="10.45" height="34.7" fill="#c00008" stroke="#a00008" stroke-width="0.75"/>
<path d="M306.4 458.5L308.49 460.7L306.4 462.9L304.31 460.7Z" fill="#fff" stroke="#bbab62" stroke-width="0.95"/>
<path d="M303 464.1L305.09 466.3L303 468.5L300.91 466.3Z" fill="#fff" stroke="#bbab62" stroke-width="0.95"/>
<path d="M309 466.3L311.09 468.5L309 470.7L306.91 468.5Z" fill="#fff" stroke="#bbab62" stroke-width="0.95"/>
<path d="M303 484.5L305.09 486.7L303 488.9L300.91 486.7Z" fill="#fff" stroke="#bbab62" stroke-width="0.95"/>
<path d="M309 488.3L311.09 490.5L309 492.7L306.91 490.5Z" fill="#fff" stroke="#bbab62" stroke-width="0.95"/>
<path d="M305.9 494.5L307.99 496.7L305.9 498.9L303.81 496.7Z" fill="#fff" stroke="#bbab62" stroke-width="0.95"/>
<circle cx="325.4" cy="451.8" r="1.85" fill="#fff" stroke="#dc6e12" stroke-width="1.0"/>
<circle cx="325.4" cy="457.3" r="1.85" fill="#fff" stroke="#dc6e12" stroke-width="1.0"/>
<circle cx="322.5" cy="462.1" r="1.85" fill="#fff" stroke="#dc6e12" stroke-width="1.0"/>
<circle cx="328.4" cy="463.3" r="1.85" fill="#fff" stroke="#dc6e12" stroke-width="1.0"/>
<circle cx="322.5" cy="466.8" r="1.85" fill="#fff" stroke="#dc6e12" stroke-width="1.0"/>
<circle cx="328.4" cy="471.1" r="1.85" fill="#fff" stroke="#dc6e12" stroke-width="1.0"/>
<path d="M342.7 478.65L345.05 474.42L340.35 474.42Z" fill="#fff" stroke="#c00008" stroke-width="1.15" stroke-linejoin="round"/>
<path d="M346.2 474.85L348.55 470.62L343.85 470.62Z" fill="#fff" stroke="#c00008" stroke-width="1.15" stroke-linejoin="round"/>
<path d="M345 500.25L347.35 496.02L342.65 496.02Z" fill="#fff" stroke="#c00008" stroke-width="1.15" stroke-linejoin="round"/>
<path d="M341 507.65L343.35 503.42L338.65 503.42Z" fill="#fff" stroke="#c00008" stroke-width="1.15" stroke-linejoin="round"/>
<path d="M345 508.85L347.35 504.62L342.65 504.62Z" fill="#fff" stroke="#c00008" stroke-width="1.15" stroke-linejoin="round"/>
<path d="M348.4 511.15L350.75 506.92L346.05 506.92Z" fill="#fff" stroke="#c00008" stroke-width="1.15" stroke-linejoin="round"/>
<path d="M306.9 447.3V442.6H343.2V447.3" class="br"/>
<line x1="325.4" y1="442.6" x2="325.4" y2="447.3" stroke="#555" stroke-width="1.35"/>
<circle cx="315.4" cy="436.8" r="1.25" class="st"/>
<circle cx="332.8" cy="436.8" r="1.25" class="st"/>
<circle cx="337.4" cy="436.8" r="1.25" class="st"/>
<text x="357.9" y="424.1" class="L">J</text>
<line x1="389" y1="436" x2="389" y2="530" class="ax"/>
<line x1="384.8" y1="529.4" x2="446.8" y2="529.4" class="ax"/>
<text x="383.6" y="531.7" class="T">0.0</text>
<line x1="384.8" y1="506.2" x2="389" y2="506.2" class="tk"/>
<text x="383.6" y="508.5" class="T">0.5</text>
<line x1="384.8" y1="483" x2="389" y2="483" class="tk"/>
<text x="383.6" y="485.3" class="T">1.0</text>
<line x1="384.8" y1="459.8" x2="389" y2="459.8" class="tk"/>
<text x="383.6" y="462.1" class="T">1.5</text>
<line x1="384.8" y1="436.6" x2="389" y2="436.6" class="tk"/>
<text x="383.6" y="438.9" class="T">2.0</text>
<text transform="translate(370.3,482) rotate(-90)" class="Y">OPG/RANKL ratio in serum</text>
<line x1="402.3" y1="482" x2="402.3" y2="479.8" stroke="#666" stroke-width="0.95"/>
<line x1="400" y1="479.8" x2="404.6" y2="479.8" stroke="#666" stroke-width="0.95"/>
<rect x="396.38" y="482" width="11.85" height="47.4" fill="#f8f9e4" stroke="#707070" stroke-width="0.75"/>
<line x1="420.8" y1="469" x2="420.8" y2="465" stroke="#555" stroke-width="0.95"/>
<line x1="418.5" y1="465" x2="423.1" y2="465" stroke="#555" stroke-width="0.95"/>
<rect x="415.38" y="469" width="10.85" height="60.4" fill="#fda040" stroke="#7a6a5a" stroke-width="0.75"/>
<line x1="439.3" y1="483.4" x2="439.3" y2="480.4" stroke="#777" stroke-width="0.95"/>
<line x1="437" y1="480.4" x2="441.6" y2="480.4" stroke="#777" stroke-width="0.95"/>
<rect x="433.57" y="483.4" width="11.45" height="46" fill="#c00008" stroke="#a00008" stroke-width="0.75"/>
<path d="M402 470.4L404.09 472.6L402 474.8L399.91 472.6Z" fill="#fff" stroke="#bbab62" stroke-width="0.95"/>
<path d="M403.4 476.4L405.49 478.6L403.4 480.8L401.31 478.6Z" fill="#fff" stroke="#bbab62" stroke-width="0.95"/>
<path d="M398.6 480.8L400.69 483L398.6 485.2L396.51 483Z" fill="#fff" stroke="#bbab62" stroke-width="0.95"/>
<path d="M401.5 481.8L403.59 484L401.5 486.2L399.41 484Z" fill="#fff" stroke="#bbab62" stroke-width="0.95"/>
<path d="M404.5 483.3L406.59 485.5L404.5 487.7L402.41 485.5Z" fill="#fff" stroke="#bbab62" stroke-width="0.95"/>
<path d="M400 484.3L402.09 486.5L400 488.7L397.91 486.5Z" fill="#fff" stroke="#bbab62" stroke-width="0.95"/>
<path d="M405.4 486.4L407.49 488.6L405.4 490.8L403.31 488.6Z" fill="#fff" stroke="#bbab62" stroke-width="0.95"/>
<circle cx="420.6" cy="454.6" r="1.85" fill="#fff" stroke="#dc6e12" stroke-width="1.0"/>
<circle cx="421.4" cy="460.6" r="1.85" fill="#fff" stroke="#dc6e12" stroke-width="1.0"/>
<circle cx="419" cy="463" r="1.85" fill="#fff" stroke="#dc6e12" stroke-width="1.0"/>
<circle cx="416.6" cy="473" r="1.85" fill="#fff" stroke="#dc6e12" stroke-width="1.0"/>
<circle cx="419.4" cy="476.6" r="1.85" fill="#fff" stroke="#dc6e12" stroke-width="1.0"/>
<circle cx="422.6" cy="477.4" r="1.85" fill="#fff" stroke="#dc6e12" stroke-width="1.0"/>
<circle cx="425" cy="478" r="1.85" fill="#fff" stroke="#dc6e12" stroke-width="1.0"/>
<path d="M435.4 478.95L437.75 474.72L433.05 474.72Z" fill="#fff" stroke="#c00008" stroke-width="1.15" stroke-linejoin="round"/>
<path d="M438.6 478.95L440.95 474.72L436.25 474.72Z" fill="#fff" stroke="#c00008" stroke-width="1.15" stroke-linejoin="round"/>
<path d="M442 478.35L444.35 474.12L439.65 474.12Z" fill="#fff" stroke="#c00008" stroke-width="1.15" stroke-linejoin="round"/>
<path d="M437.4 486.35L439.75 482.12L435.05 482.12Z" fill="#fff" stroke="#c00008" stroke-width="1.15" stroke-linejoin="round"/>
<path d="M439 491.35L441.35 487.12L436.65 487.12Z" fill="#fff" stroke="#c00008" stroke-width="1.15" stroke-linejoin="round"/>
<path d="M443.4 491.35L445.75 487.12L441.05 487.12Z" fill="#fff" stroke="#c00008" stroke-width="1.15" stroke-linejoin="round"/>
<path d="M441.4 494.95L443.75 490.72L439.05 490.72Z" fill="#fff" stroke="#c00008" stroke-width="1.15" stroke-linejoin="round"/>
<path d="M402 446.4V442H439.4V446.4" class="br"/>
<line x1="420.6" y1="442" x2="420.6" y2="446.4" stroke="#555" stroke-width="1.35"/>
<circle cx="408.7" cy="436.2" r="1.25" class="st"/>
<circle cx="413.3" cy="436.2" r="1.25" class="st"/>
<circle cx="427.1" cy="436.2" r="1.25" class="st"/>
<circle cx="431.7" cy="436.2" r="1.25" class="st"/>
<rect x="447.4" y="435.4" width="10.5" height="3.8" fill="#f8f9e4" stroke="#333" stroke-width="0.8"/>
<rect x="447.4" y="447.8" width="10.5" height="3.8" fill="#fda040" stroke="#333" stroke-width="0.8"/>
<rect x="447.4" y="460.1" width="10.5" height="3.8" fill="#c00008" stroke="#c00008" stroke-width="0.8"/>
<text x="462.3" y="439.7" class="G">Control</text>
<text x="462.3" y="452.1" class="G">Unloading</text>
<text x="462.3" y="464.4" class="G">Unloading+Daphnetin</text>
</svg>
</body></html>
